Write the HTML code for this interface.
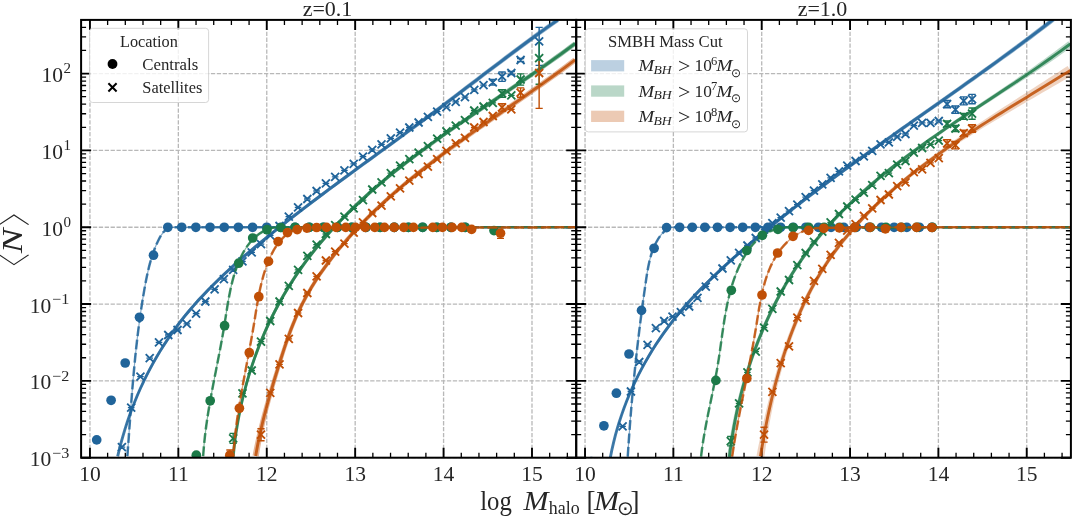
<!DOCTYPE html>
<html><head><meta charset="utf-8"><title>HOD</title><style>html,body{margin:0;padding:0;background:#fff}svg{display:block}</style></head><body>
<svg width="1075" height="518" viewBox="0 0 1075 518" font-family="'Liberation Serif', serif" fill="#262626">
<rect width="1075" height="518" fill="#fff"/>
<defs><clipPath id="c0"><rect x="81.1" y="19.9" width="495.1" height="437.8"/></clipPath><clipPath id="c1"><rect x="576.2" y="19.9" width="494.7" height="437.8"/></clipPath></defs>
<path d="M89.94 19.9V457.7M178.35 19.9V457.7M266.76 19.9V457.7M355.17 19.9V457.7M443.58 19.9V457.7M531.99 19.9V457.7M81.1 457.7H576.2M81.1 380.88H576.2M81.1 304.06H576.2M81.1 227.24H576.2M81.1 150.42H576.2M81.1 73.6H576.2" stroke="#b0b0b0" stroke-opacity="0.9" stroke-width="1.3" stroke-dasharray="4.3 1.6" fill="none"/>
<path d="M585.03 19.9V457.7M673.37 19.9V457.7M761.71 19.9V457.7M850.05 19.9V457.7M938.39 19.9V457.7M1026.73 19.9V457.7M576.2 457.7H1070.9M576.2 380.88H1070.9M576.2 304.06H1070.9M576.2 227.24H1070.9M576.2 150.42H1070.9M576.2 73.6H1070.9" stroke="#b0b0b0" stroke-opacity="0.9" stroke-width="1.3" stroke-dasharray="4.3 1.6" fill="none"/>
<path d="M107.62 457.7v-5.0M107.62 19.9v5.0M125.31 457.7v-5.0M125.31 19.9v5.0M142.99 457.7v-5.0M142.99 19.9v5.0M160.67 457.7v-5.0M160.67 19.9v5.0M196.03 457.7v-5.0M196.03 19.9v5.0M213.72 457.7v-5.0M213.72 19.9v5.0M231.4 457.7v-5.0M231.4 19.9v5.0M249.08 457.7v-5.0M249.08 19.9v5.0M284.44 457.7v-5.0M284.44 19.9v5.0M302.13 457.7v-5.0M302.13 19.9v5.0M319.81 457.7v-5.0M319.81 19.9v5.0M337.49 457.7v-5.0M337.49 19.9v5.0M372.86 457.7v-5.0M372.86 19.9v5.0M390.54 457.7v-5.0M390.54 19.9v5.0M408.22 457.7v-5.0M408.22 19.9v5.0M425.9 457.7v-5.0M425.9 19.9v5.0M461.27 457.7v-5.0M461.27 19.9v5.0M478.95 457.7v-5.0M478.95 19.9v5.0M496.63 457.7v-5.0M496.63 19.9v5.0M514.31 457.7v-5.0M514.31 19.9v5.0M549.68 457.7v-5.0M549.68 19.9v5.0M567.36 457.7v-5.0M567.36 19.9v5.0M81.1 434.57h5.0M576.2 434.57h-5.0M81.1 421.05h5.0M576.2 421.05h-5.0M81.1 411.45h5.0M576.2 411.45h-5.0M81.1 404h5.0M576.2 404h-5.0M81.1 397.92h5.0M576.2 397.92h-5.0M81.1 392.78h5.0M576.2 392.78h-5.0M81.1 388.32h5.0M576.2 388.32h-5.0M81.1 384.39h5.0M576.2 384.39h-5.0M81.1 357.75h5.0M576.2 357.75h-5.0M81.1 344.23h5.0M576.2 344.23h-5.0M81.1 334.63h5.0M576.2 334.63h-5.0M81.1 327.18h5.0M576.2 327.18h-5.0M81.1 321.1h5.0M576.2 321.1h-5.0M81.1 315.96h5.0M576.2 315.96h-5.0M81.1 311.5h5.0M576.2 311.5h-5.0M81.1 307.57h5.0M576.2 307.57h-5.0M81.1 280.93h5.0M576.2 280.93h-5.0M81.1 267.41h5.0M576.2 267.41h-5.0M81.1 257.81h5.0M576.2 257.81h-5.0M81.1 250.36h5.0M576.2 250.36h-5.0M81.1 244.28h5.0M576.2 244.28h-5.0M81.1 239.14h5.0M576.2 239.14h-5.0M81.1 234.68h5.0M576.2 234.68h-5.0M81.1 230.75h5.0M576.2 230.75h-5.0M81.1 204.11h5.0M576.2 204.11h-5.0M81.1 190.58h5.0M576.2 190.58h-5.0M81.1 180.99h5.0M576.2 180.99h-5.0M81.1 173.54h5.0M576.2 173.54h-5.0M81.1 167.46h5.0M576.2 167.46h-5.0M81.1 162.32h5.0M576.2 162.32h-5.0M81.1 157.86h5.0M576.2 157.86h-5.0M81.1 153.93h5.0M576.2 153.93h-5.0M81.1 127.29h5.0M576.2 127.29h-5.0M81.1 113.76h5.0M576.2 113.76h-5.0M81.1 104.17h5.0M576.2 104.17h-5.0M81.1 96.72h5.0M576.2 96.72h-5.0M81.1 90.64h5.0M576.2 90.64h-5.0M81.1 85.5h5.0M576.2 85.5h-5.0M81.1 81.04h5.0M576.2 81.04h-5.0M81.1 77.11h5.0M576.2 77.11h-5.0M81.1 50.47h5.0M576.2 50.47h-5.0M81.1 36.94h5.0M576.2 36.94h-5.0M81.1 27.34h5.0M576.2 27.34h-5.0M81.1 19.9h5.0M576.2 19.9h-5.0" stroke="#000" stroke-width="1.3" fill="none"/>
<path d="M89.94 457.7v-10.0M89.94 19.9v10.0M178.35 457.7v-10.0M178.35 19.9v10.0M266.76 457.7v-10.0M266.76 19.9v10.0M355.17 457.7v-10.0M355.17 19.9v10.0M443.58 457.7v-10.0M443.58 19.9v10.0M531.99 457.7v-10.0M531.99 19.9v10.0M81.1 457.7h10.0M576.2 457.7h-10.0M81.1 380.88h10.0M576.2 380.88h-10.0M81.1 304.06h10.0M576.2 304.06h-10.0M81.1 227.24h10.0M576.2 227.24h-10.0M81.1 150.42h10.0M576.2 150.42h-10.0M81.1 73.6h10.0M576.2 73.6h-10.0" stroke="#000" stroke-width="1.9" fill="none"/>
<path d="M602.7 457.7v-5.0M602.7 19.9v5.0M620.37 457.7v-5.0M620.37 19.9v5.0M638.04 457.7v-5.0M638.04 19.9v5.0M655.71 457.7v-5.0M655.71 19.9v5.0M691.04 457.7v-5.0M691.04 19.9v5.0M708.71 457.7v-5.0M708.71 19.9v5.0M726.38 457.7v-5.0M726.38 19.9v5.0M744.04 457.7v-5.0M744.04 19.9v5.0M779.38 457.7v-5.0M779.38 19.9v5.0M797.05 457.7v-5.0M797.05 19.9v5.0M814.72 457.7v-5.0M814.72 19.9v5.0M832.38 457.7v-5.0M832.38 19.9v5.0M867.72 457.7v-5.0M867.72 19.9v5.0M885.39 457.7v-5.0M885.39 19.9v5.0M903.06 457.7v-5.0M903.06 19.9v5.0M920.72 457.7v-5.0M920.72 19.9v5.0M956.06 457.7v-5.0M956.06 19.9v5.0M973.73 457.7v-5.0M973.73 19.9v5.0M991.39 457.7v-5.0M991.39 19.9v5.0M1009.06 457.7v-5.0M1009.06 19.9v5.0M1044.4 457.7v-5.0M1044.4 19.9v5.0M1062.07 457.7v-5.0M1062.07 19.9v5.0M576.2 434.57h5.0M1070.9 434.57h-5.0M576.2 421.05h5.0M1070.9 421.05h-5.0M576.2 411.45h5.0M1070.9 411.45h-5.0M576.2 404h5.0M1070.9 404h-5.0M576.2 397.92h5.0M1070.9 397.92h-5.0M576.2 392.78h5.0M1070.9 392.78h-5.0M576.2 388.32h5.0M1070.9 388.32h-5.0M576.2 384.39h5.0M1070.9 384.39h-5.0M576.2 357.75h5.0M1070.9 357.75h-5.0M576.2 344.23h5.0M1070.9 344.23h-5.0M576.2 334.63h5.0M1070.9 334.63h-5.0M576.2 327.18h5.0M1070.9 327.18h-5.0M576.2 321.1h5.0M1070.9 321.1h-5.0M576.2 315.96h5.0M1070.9 315.96h-5.0M576.2 311.5h5.0M1070.9 311.5h-5.0M576.2 307.57h5.0M1070.9 307.57h-5.0M576.2 280.93h5.0M1070.9 280.93h-5.0M576.2 267.41h5.0M1070.9 267.41h-5.0M576.2 257.81h5.0M1070.9 257.81h-5.0M576.2 250.36h5.0M1070.9 250.36h-5.0M576.2 244.28h5.0M1070.9 244.28h-5.0M576.2 239.14h5.0M1070.9 239.14h-5.0M576.2 234.68h5.0M1070.9 234.68h-5.0M576.2 230.75h5.0M1070.9 230.75h-5.0M576.2 204.11h5.0M1070.9 204.11h-5.0M576.2 190.58h5.0M1070.9 190.58h-5.0M576.2 180.99h5.0M1070.9 180.99h-5.0M576.2 173.54h5.0M1070.9 173.54h-5.0M576.2 167.46h5.0M1070.9 167.46h-5.0M576.2 162.32h5.0M1070.9 162.32h-5.0M576.2 157.86h5.0M1070.9 157.86h-5.0M576.2 153.93h5.0M1070.9 153.93h-5.0M576.2 127.29h5.0M1070.9 127.29h-5.0M576.2 113.76h5.0M1070.9 113.76h-5.0M576.2 104.17h5.0M1070.9 104.17h-5.0M576.2 96.72h5.0M1070.9 96.72h-5.0M576.2 90.64h5.0M1070.9 90.64h-5.0M576.2 85.5h5.0M1070.9 85.5h-5.0M576.2 81.04h5.0M1070.9 81.04h-5.0M576.2 77.11h5.0M1070.9 77.11h-5.0M576.2 50.47h5.0M1070.9 50.47h-5.0M576.2 36.94h5.0M1070.9 36.94h-5.0M576.2 27.34h5.0M1070.9 27.34h-5.0M576.2 19.9h5.0M1070.9 19.9h-5.0" stroke="#000" stroke-width="1.3" fill="none"/>
<path d="M585.03 457.7v-10.0M585.03 19.9v10.0M673.37 457.7v-10.0M673.37 19.9v10.0M761.71 457.7v-10.0M761.71 19.9v10.0M850.05 457.7v-10.0M850.05 19.9v10.0M938.39 457.7v-10.0M938.39 19.9v10.0M1026.73 457.7v-10.0M1026.73 19.9v10.0M576.2 457.7h10.0M1070.9 457.7h-10.0M576.2 380.88h10.0M1070.9 380.88h-10.0M576.2 304.06h10.0M1070.9 304.06h-10.0M576.2 227.24h10.0M1070.9 227.24h-10.0M576.2 150.42h10.0M1070.9 150.42h-10.0M576.2 73.6h10.0M1070.9 73.6h-10.0" stroke="#000" stroke-width="1.9" fill="none"/>
<g clip-path="url(#c0)">
<g stroke="#20649a" fill="#20649a">
<path d="M127.37 456.21L127.63 452.65L127.89 449.1L128.15 445.56L128.4 442.02L128.66 438.49L128.91 434.96L129.16 431.44L129.41 427.92L129.67 424.41L129.92 420.9L130.18 417.39L130.43 413.89L130.69 410.39L130.95 406.9L131.22 403.4L131.48 399.91L131.76 396.42L132.03 392.94L132.31 389.45L132.6 385.97L132.89 382.49L133.19 379.01L133.49 375.54L133.81 372.06L134.13 368.58L134.45 365.11L134.79 361.63L135.13 358.16L135.49 354.68L135.85 351.2L136.22 347.73L136.61 344.25L137 340.77L137.41 337.29L137.83 333.81L138.26 330.33L138.71 326.84L139.16 323.36L139.63 319.87L140.12 316.38L140.62 312.88L141.14 309.38L141.67 305.88L142.21 302.38L142.78 298.87L143.36 295.36L143.96 291.84L144.57 288.32L145.21 284.8L145.87 281.28L146.57 277.77L147.31 274.27L148.09 270.78L148.92 267.32L149.8 263.89L150.75 260.48L151.77 257.11L152.86 253.79L154.02 250.5L155.28 247.27L156.62 244.09L158.06 240.97L159.6 237.92L161.31 235.03L163.24 232.38L165.46 230.08L168.02 228.22L170.99 227.3L174.43 227.3L578.2 227.3" fill="none" stroke-width="1.2" stroke-opacity="0.55"/>
<path d="M127.37 456.21L127.63 452.65L127.89 449.1L128.15 445.56L128.4 442.02L128.66 438.49L128.91 434.96L129.16 431.44L129.41 427.92L129.67 424.41L129.92 420.9L130.18 417.39L130.43 413.89L130.69 410.39L130.95 406.9L131.22 403.4L131.48 399.91L131.76 396.42L132.03 392.94L132.31 389.45L132.6 385.97L132.89 382.49L133.19 379.01L133.49 375.54L133.81 372.06L134.13 368.58L134.45 365.11L134.79 361.63L135.13 358.16L135.49 354.68L135.85 351.2L136.22 347.73L136.61 344.25L137 340.77L137.41 337.29L137.83 333.81L138.26 330.33L138.71 326.84L139.16 323.36L139.63 319.87L140.12 316.38L140.62 312.88L141.14 309.38L141.67 305.88L142.21 302.38L142.78 298.87L143.36 295.36L143.96 291.84L144.57 288.32L145.21 284.8L145.87 281.28L146.57 277.77L147.31 274.27L148.09 270.78L148.92 267.32L149.8 263.89L150.75 260.48L151.77 257.11L152.86 253.79L154.02 250.5L155.28 247.27L156.62 244.09L158.06 240.97L159.6 237.92L161.31 235.03L163.24 232.38L165.46 230.08L168.02 228.22L170.99 227.3L174.43 227.3L578.2 227.3" fill="none" stroke-width="2.5" stroke-opacity="0.82" stroke-dasharray="9.8 3.6"/>
<g stroke="none"><circle cx="96.7" cy="439.9" r="4.85"/><circle cx="111.1" cy="400.3" r="4.85"/><circle cx="125.2" cy="363" r="4.85"/><circle cx="139.5" cy="317.3" r="4.85"/><circle cx="153.5" cy="255.2" r="4.85"/><circle cx="167.8" cy="227.3" r="4.85"/><circle cx="181.72" cy="227.3" r="4.85"/><circle cx="195.89" cy="227.3" r="4.85"/><circle cx="210.06" cy="227.3" r="4.85"/><circle cx="224.23" cy="227.3" r="4.85"/><circle cx="238.4" cy="227.3" r="4.85"/><circle cx="252.57" cy="227.3" r="4.85"/><circle cx="266.74" cy="227.3" r="4.85"/><circle cx="280.91" cy="227.3" r="4.85"/><circle cx="295.08" cy="227.3" r="4.85"/><circle cx="309.25" cy="227.3" r="4.85"/><circle cx="323.42" cy="227.3" r="4.85"/><circle cx="337.59" cy="227.3" r="4.85"/><circle cx="351.76" cy="227.3" r="4.85"/><circle cx="365.93" cy="227.3" r="4.85"/><circle cx="380.1" cy="227.3" r="4.85"/><circle cx="394.27" cy="227.3" r="4.85"/><circle cx="408.44" cy="227.3" r="4.85"/><circle cx="422.61" cy="227.3" r="4.85"/><circle cx="436.78" cy="227.3" r="4.85"/><circle cx="450.95" cy="227.3" r="4.85"/><circle cx="465.12" cy="227.3" r="4.85"/></g>
<path d="M117.67 456.43L119.48 449.45L121.41 442.51L123.47 435.63L125.64 428.79L127.93 422L130.35 415.27L132.89 408.59L135.55 401.98L138.34 395.43L141.25 388.94L144.28 382.52L147.44 376.17L150.72 369.89L154.13 363.69L157.66 357.56L161.31 351.52L165.08 345.55L168.98 339.68L173.01 333.89L177.15 328.19L181.42 322.59L185.81 317.08L190.32 311.66L194.94 306.32L199.66 301.07L204.47 295.89L209.39 290.79L214.38 285.76L219.46 280.79L224.62 275.89L229.84 271.05L235.12 266.27L240.47 261.55L245.86 256.87L251.3 252.24L256.78 247.65L262.29 243.1L267.83 238.59L273.39 234.11L278.97 229.66L284.56 225.24L290.17 220.85L295.8 216.48L301.44 212.14L307.1 207.83L312.77 203.53L318.45 199.26L324.15 195L329.85 190.77L335.56 186.54L341.29 182.33L347.01 178.13L352.75 173.93L358.49 169.75L364.23 165.57L369.98 161.39L375.73 157.22L381.48 153.05L387.23 148.87L392.98 144.69L398.72 140.51L404.47 136.32L410.21 132.12L415.95 127.92L421.68 123.7L427.41 119.46L433.13 115.21L438.84 110.95L444.54 106.68L450.24 102.39L455.93 98.1L461.62 93.8L467.31 89.49L473 85.18L478.68 80.88L484.37 76.57L490.06 72.27L495.75 67.98L501.45 63.7L507.16 59.42L512.87 55.16L518.59 50.91L524.32 46.69L530.06 42.48L535.81 38.29L541.57 34.12L547.35 29.98L553.14 25.87L558.96 21.79L556.37 18.13L550.57 22.25L544.78 26.4L539.01 30.58L533.26 34.79L527.51 39.01L521.78 43.26L516.07 47.53L510.36 51.81L504.66 56.1L498.97 60.41L493.29 64.72L487.61 69.05L481.94 73.37L476.27 77.71L470.6 82.04L464.94 86.37L459.27 90.7L453.6 95.02L447.93 99.34L442.26 103.65L436.58 107.94L430.89 112.23L425.2 116.5L419.5 120.75L413.79 124.99L408.07 129.22L402.35 133.43L396.63 137.64L390.9 141.85L385.17 146.05L379.43 150.24L373.7 154.44L367.97 158.64L362.23 162.83L356.5 167.04L350.77 171.24L345.05 175.46L339.33 179.68L333.62 183.92L327.92 188.16L322.22 192.43L316.53 196.7L310.85 201L305.18 205.31L299.53 209.64L293.88 214L288.24 218.38L282.63 222.78L277.02 227.21L271.44 231.68L265.87 236.17L260.32 240.7L254.8 245.27L249.31 249.89L243.86 254.54L238.45 259.25L233.09 264.01L227.79 268.83L222.55 273.7L217.39 278.64L212.29 283.65L207.28 288.73L202.35 293.89L197.52 299.12L192.78 304.43L188.16 309.83L183.64 315.32L179.25 320.91L174.98 326.58L170.83 332.36L166.82 338.22L162.94 344.18L159.19 350.22L155.57 356.35L152.08 362.55L148.73 368.84L145.51 375.2L142.43 381.64L139.48 388.14L136.66 394.71L133.99 401.35L131.45 408.05L129.05 414.81L126.8 421.62L124.68 428.49L122.71 435.41L120.89 442.37L119.21 449.38L117.67 456.43Z" stroke="none" fill-opacity="0.5"/>
<path d="M117.67 456.43L119.34 449.42L121.15 442.44L123.09 435.52L125.16 428.64L127.37 421.81L129.7 415.04L132.17 408.32L134.77 401.67L137.5 395.07L140.36 388.54L143.35 382.08L146.48 375.68L149.73 369.36L153.11 363.12L156.61 356.95L160.25 350.87L164.01 344.87L167.9 338.95L171.92 333.12L176.07 327.39L180.34 321.75L184.73 316.2L189.24 310.75L193.86 305.38L198.59 300.09L203.41 294.89L208.33 289.76L213.34 284.7L218.42 279.72L223.59 274.8L228.82 269.94L234.11 265.14L239.46 260.4L244.86 255.71L250.3 251.06L255.79 246.46L261.31 241.9L266.85 237.38L272.41 232.89L277.99 228.44L283.59 224.01L289.21 219.61L294.84 215.24L300.48 210.89L306.14 206.57L311.81 202.27L317.49 197.98L323.18 193.72L328.88 189.46L334.59 185.23L340.31 181.01L346.03 176.79L351.76 172.59L357.49 168.39L363.23 164.2L368.97 160.01L374.71 155.83L380.45 151.65L386.2 147.46L391.94 143.27L397.68 139.08L403.41 134.88L409.14 130.67L414.87 126.45L420.59 122.22L426.3 117.98L432.01 113.72L437.71 109.45L443.4 105.16L449.09 100.87L454.77 96.56L460.45 92.25L466.12 87.93L471.8 83.61L477.48 79.29L483.16 74.97L488.84 70.66L494.52 66.35L500.21 62.05L505.91 57.76L511.61 53.48L517.33 49.22L523.05 44.97L528.78 40.75L534.53 36.54L540.29 32.35L546.07 28.19L551.86 24.06L557.67 19.96" fill="none" stroke-width="2.9" stroke-opacity="0.85"/>
<path d="M118.6 447.2h6.6M127.87 407.7h6.6M137.14 376.7h6.6M146.42 358.2h6.6M155.69 342.4h6.6M164.96 335h6.6M174.23 330h6.6M183.5 323.8h6.6M192.78 313.6h6.6M202.05 301.5h6.6M211.32 289.4h6.6M220.59 279.2h6.6M229.86 269.9h6.6M239.14 261.3h6.6M248.41 252.4h6.6M257.68 244.2h6.6M266.95 235.3h6.6M276.22 226h6.6M285.5 216.7h6.6M294.77 207.3h6.6M304.04 199h6.6M313.31 191h6.6M322.58 183.3h6.6M331.86 176.8h6.6M341.13 170.3h6.6M350.4 163.8h6.6M359.67 156.7h6.6M368.94 149.9h6.6M378.22 144.3h6.6M387.49 138.3h6.6M396.76 132.7h6.6M406.03 127.5h6.6M415.3 122.5h6.6M424.58 116.9h6.6M433.85 111.7h6.6M443.12 107.2h6.6M452.39 101.9h6.6M461.66 97.2h6.6M470.94 89.8h6.6M480.21 85.1h6.6" fill="none" stroke-width="1.3"/>
<path d="M492.78 79.5V85.1M489.18 79.5h7.2M489.18 85.1h7.2M502.05 72V81.4M498.45 72h7.2M498.45 81.4h7.2M511.32 71.5V74.5M507.72 71.5h7.2M507.72 74.5h7.2M520.6 58.5V61.5M517 58.5h7.2M517 61.5h7.2M539.14 27.4V65.4M535.54 27.4h7.2M535.54 65.4h7.2" fill="none" stroke-width="1.4"/>
<path d="M117.9 443.2l8.0 8.0m0 -8.0l-8.0 8.0M127.17 403.7l8.0 8.0m0 -8.0l-8.0 8.0M136.44 372.7l8.0 8.0m0 -8.0l-8.0 8.0M145.72 354.2l8.0 8.0m0 -8.0l-8.0 8.0M154.99 338.4l8.0 8.0m0 -8.0l-8.0 8.0M164.26 331l8.0 8.0m0 -8.0l-8.0 8.0M173.53 326l8.0 8.0m0 -8.0l-8.0 8.0M182.8 319.8l8.0 8.0m0 -8.0l-8.0 8.0M192.08 309.6l8.0 8.0m0 -8.0l-8.0 8.0M201.35 297.5l8.0 8.0m0 -8.0l-8.0 8.0M210.62 285.4l8.0 8.0m0 -8.0l-8.0 8.0M219.89 275.2l8.0 8.0m0 -8.0l-8.0 8.0M229.16 265.9l8.0 8.0m0 -8.0l-8.0 8.0M238.44 257.3l8.0 8.0m0 -8.0l-8.0 8.0M247.71 248.4l8.0 8.0m0 -8.0l-8.0 8.0M256.98 240.2l8.0 8.0m0 -8.0l-8.0 8.0M266.25 231.3l8.0 8.0m0 -8.0l-8.0 8.0M275.52 222l8.0 8.0m0 -8.0l-8.0 8.0M284.8 212.7l8.0 8.0m0 -8.0l-8.0 8.0M294.07 203.3l8.0 8.0m0 -8.0l-8.0 8.0M303.34 195l8.0 8.0m0 -8.0l-8.0 8.0M312.61 187l8.0 8.0m0 -8.0l-8.0 8.0M321.88 179.3l8.0 8.0m0 -8.0l-8.0 8.0M331.16 172.8l8.0 8.0m0 -8.0l-8.0 8.0M340.43 166.3l8.0 8.0m0 -8.0l-8.0 8.0M349.7 159.8l8.0 8.0m0 -8.0l-8.0 8.0M358.97 152.7l8.0 8.0m0 -8.0l-8.0 8.0M368.24 145.9l8.0 8.0m0 -8.0l-8.0 8.0M377.52 140.3l8.0 8.0m0 -8.0l-8.0 8.0M386.79 134.3l8.0 8.0m0 -8.0l-8.0 8.0M396.06 128.7l8.0 8.0m0 -8.0l-8.0 8.0M405.33 123.5l8.0 8.0m0 -8.0l-8.0 8.0M414.6 118.5l8.0 8.0m0 -8.0l-8.0 8.0M423.88 112.9l8.0 8.0m0 -8.0l-8.0 8.0M433.15 107.7l8.0 8.0m0 -8.0l-8.0 8.0M442.42 103.2l8.0 8.0m0 -8.0l-8.0 8.0M451.69 97.9l8.0 8.0m0 -8.0l-8.0 8.0M460.96 93.2l8.0 8.0m0 -8.0l-8.0 8.0M470.24 85.8l8.0 8.0m0 -8.0l-8.0 8.0M479.51 81.1l8.0 8.0m0 -8.0l-8.0 8.0M488.78 78.3l8.0 8.0m0 -8.0l-8.0 8.0M498.05 72.7l8.0 8.0m0 -8.0l-8.0 8.0M507.32 69l8.0 8.0m0 -8.0l-8.0 8.0M516.6 56l8.0 8.0m0 -8.0l-8.0 8.0M535.14 37.4l8.0 8.0m0 -8.0l-8.0 8.0" fill="none" stroke-width="1.85"/>
</g>
<g stroke="#1c7a48" fill="#1c7a48">
<path d="M203.15 456.14L203.44 452.14L203.75 448.18L204.11 444.24L204.5 440.33L204.92 436.44L205.38 432.58L205.86 428.73L206.38 424.91L206.91 421.1L207.48 417.32L208.06 413.55L208.67 409.79L209.3 406.04L209.94 402.31L210.6 398.58L211.28 394.86L211.96 391.15L212.66 387.45L213.37 383.75L214.09 380.04L214.81 376.34L215.54 372.64L216.26 368.94L216.99 365.23L217.72 361.52L218.45 357.8L219.17 354.07L219.89 350.33L220.6 346.58L221.29 342.81L221.98 339.03L222.66 335.24L223.32 331.43L223.97 327.59L224.59 323.74L225.21 319.87L225.82 315.99L226.43 312.09L227.06 308.19L227.7 304.3L228.37 300.4L229.08 296.52L229.83 292.65L230.63 288.8L231.49 284.98L232.42 281.18L233.43 277.42L234.52 273.69L235.7 270.01L236.99 266.37L238.38 262.79L239.89 259.26L241.52 255.81L243.29 252.45L245.2 249.21L247.25 246.11L249.46 243.16L251.83 240.39L254.36 237.81L257.08 235.45L259.98 233.32L263.07 231.45L266.35 229.86L269.85 228.57L273.56 227.59L277.49 227.3L281.65 227.3L286.04 227.3L290.68 227.3L578.2 227.3" fill="none" stroke-width="1.2" stroke-opacity="0.55"/>
<path d="M203.15 456.14L203.44 452.14L203.75 448.18L204.11 444.24L204.5 440.33L204.92 436.44L205.38 432.58L205.86 428.73L206.38 424.91L206.91 421.1L207.48 417.32L208.06 413.55L208.67 409.79L209.3 406.04L209.94 402.31L210.6 398.58L211.28 394.86L211.96 391.15L212.66 387.45L213.37 383.75L214.09 380.04L214.81 376.34L215.54 372.64L216.26 368.94L216.99 365.23L217.72 361.52L218.45 357.8L219.17 354.07L219.89 350.33L220.6 346.58L221.29 342.81L221.98 339.03L222.66 335.24L223.32 331.43L223.97 327.59L224.59 323.74L225.21 319.87L225.82 315.99L226.43 312.09L227.06 308.19L227.7 304.3L228.37 300.4L229.08 296.52L229.83 292.65L230.63 288.8L231.49 284.98L232.42 281.18L233.43 277.42L234.52 273.69L235.7 270.01L236.99 266.37L238.38 262.79L239.89 259.26L241.52 255.81L243.29 252.45L245.2 249.21L247.25 246.11L249.46 243.16L251.83 240.39L254.36 237.81L257.08 235.45L259.98 233.32L263.07 231.45L266.35 229.86L269.85 228.57L273.56 227.59L277.49 227.3L281.65 227.3L286.04 227.3L290.68 227.3L578.2 227.3" fill="none" stroke-width="2.5" stroke-opacity="0.82" stroke-dasharray="9.8 3.6"/>
<g stroke="none"><circle cx="196.3" cy="455.2" r="4.85"/><circle cx="210.2" cy="400.8" r="4.85"/><circle cx="224.6" cy="325.7" r="4.85"/><circle cx="238.7" cy="263.2" r="4.85"/><circle cx="252.7" cy="238" r="4.85"/><circle cx="267" cy="229.7" r="4.85"/><circle cx="280.9" cy="227.5" r="4.85"/><circle cx="295.08" cy="227.3" r="4.85"/><circle cx="309.25" cy="227.3" r="4.85"/><circle cx="323.42" cy="227.3" r="4.85"/><circle cx="337.59" cy="227.3" r="4.85"/><circle cx="351.76" cy="227.3" r="4.85"/><circle cx="365.93" cy="227.3" r="4.85"/><circle cx="380.1" cy="227.3" r="4.85"/><circle cx="394.27" cy="227.3" r="4.85"/><circle cx="408.44" cy="227.3" r="4.85"/><circle cx="422.61" cy="227.3" r="4.85"/><circle cx="436.78" cy="227.3" r="4.85"/><circle cx="450.95" cy="227.3" r="4.85"/><circle cx="465.12" cy="227.3" r="4.85"/><circle cx="494" cy="230.6" r="4.85"/></g>
<path d="M233.7 456.62L234.42 450.33L235.23 444.05L236.12 437.78L237.1 431.53L238.17 425.3L239.33 419.08L240.58 412.88L241.92 406.71L243.35 400.56L244.87 394.43L246.48 388.33L248.18 382.27L249.98 376.23L251.87 370.23L253.85 364.26L255.92 358.33L258.09 352.44L260.35 346.59L262.7 340.78L265.15 335.02L267.68 329.31L270.32 323.64L273.04 318.03L275.86 312.47L278.77 306.97L281.77 301.51L284.87 296.12L288.05 290.78L291.31 285.49L294.66 280.26L298.1 275.1L301.62 269.99L305.23 264.94L308.92 259.95L312.68 255.03L316.53 250.16L320.45 245.37L324.45 240.63L328.53 235.96L332.67 231.34L336.89 226.79L341.17 222.29L345.52 217.84L349.93 213.45L354.4 209.11L358.93 204.82L363.51 200.57L368.15 196.38L372.84 192.23L377.58 188.12L382.36 184.06L387.19 180.04L392.07 176.05L396.98 172.11L401.93 168.2L406.91 164.32L411.93 160.48L416.98 156.66L422.06 152.88L427.17 149.13L432.3 145.4L437.45 141.7L442.62 138.02L447.81 134.36L453.01 130.72L458.23 127.1L463.46 123.5L468.69 119.91L473.93 116.34L479.18 112.78L484.43 109.23L489.67 105.69L494.92 102.15L500.16 98.62L505.39 95.1L510.61 91.58L515.82 88.06L521.01 84.54L526.19 81.01L531.35 77.49L536.49 73.95L541.61 70.42L546.7 66.87L551.76 63.31L556.79 59.74L561.79 56.15L566.75 52.56L571.68 48.94L576.56 45.31L573.81 41.63L568.96 45.28L564.08 48.9L559.15 52.51L554.19 56.11L549.19 59.7L544.16 63.27L539.1 66.83L534.02 70.39L528.91 73.94L523.78 77.49L518.62 81.04L513.45 84.58L508.26 88.12L503.06 91.67L497.85 95.22L492.63 98.77L487.4 102.33L482.17 105.9L476.94 109.48L471.7 113.07L466.47 116.67L461.24 120.29L456.02 123.92L450.81 127.58L445.61 131.24L440.43 134.94L435.26 138.65L430.11 142.38L424.98 146.15L419.87 149.94L414.79 153.75L409.74 157.6L404.72 161.48L399.72 165.39L394.77 169.34L389.85 173.33L384.97 177.35L380.13 181.41L375.33 185.51L370.58 189.66L365.88 193.85L361.23 198.09L356.63 202.37L352.09 206.71L347.6 211.09L343.18 215.53L338.81 220.02L334.52 224.57L330.28 229.17L326.12 233.83L322.03 238.56L318.01 243.34L314.07 248.19L310.2 253.1L306.42 258.08L302.71 263.11L299.09 268.21L295.55 273.37L292.09 278.59L288.73 283.87L285.44 289.2L282.25 294.6L279.15 300.05L276.14 305.55L273.22 311.11L270.4 316.73L267.68 322.4L265.05 328.12L262.52 333.89L260.08 339.7L257.75 345.57L255.51 351.47L253.37 357.42L251.33 363.41L249.38 369.44L247.54 375.5L245.79 381.59L244.15 387.71L242.6 393.87L241.15 400.05L239.81 406.25L238.56 412.48L237.42 418.73L236.37 425L235.43 431.28L234.6 437.57L233.86 443.88L233.23 450.2L232.71 456.52Z" stroke="none" fill-opacity="0.5"/>
<path d="M233.21 456.57L233.83 450.26L234.54 443.97L235.36 437.68L236.27 431.41L237.27 425.15L238.37 418.91L239.57 412.68L240.86 406.48L242.25 400.3L243.73 394.15L245.31 388.02L246.99 381.93L248.76 375.86L250.63 369.83L252.59 363.83L254.65 357.88L256.8 351.96L259.05 346.08L261.39 340.24L263.83 334.45L266.37 328.71L269 323.02L271.72 317.38L274.54 311.79L277.46 306.26L280.46 300.78L283.56 295.36L286.74 289.99L290.02 284.68L293.38 279.43L296.83 274.23L300.36 269.1L303.97 264.03L307.67 259.01L311.44 254.06L315.3 249.18L319.23 244.35L323.24 239.59L327.32 234.9L331.48 230.26L335.7 225.68L339.99 221.15L344.35 216.68L348.77 212.27L353.24 207.91L357.78 203.59L362.37 199.33L367.02 195.12L371.71 190.95L376.45 186.82L381.25 182.74L386.08 178.69L390.96 174.69L395.87 170.72L400.83 166.79L405.81 162.9L410.84 159.04L415.89 155.21L420.97 151.41L426.07 147.64L431.2 143.89L436.35 140.17L441.52 136.48L446.71 132.8L451.91 129.15L457.13 125.51L462.35 121.89L467.58 118.29L472.82 114.7L478.06 111.13L483.3 107.56L488.54 104.01L493.77 100.46L499 96.92L504.23 93.38L509.44 89.85L514.64 86.32L519.82 82.79L524.98 79.25L530.13 75.72L535.25 72.17L540.36 68.62L545.43 65.07L550.47 61.5L555.49 57.92L560.47 54.33L565.41 50.73L570.32 47.11L575.19 43.47" fill="none" stroke-width="2.9" stroke-opacity="0.85"/>
<path d="M239.14 393.4h6.6M248.41 370.5h6.6M257.68 341.6h6.6M266.95 321h6.6M276.22 301.5h6.6M285.5 285.8h6.6M294.77 269.8h6.6M304.04 255.8h6.6M313.31 244.7h6.6M322.58 234h6.6M331.86 225.1h6.6M341.13 216.7h6.6M350.4 208.4h6.6M359.67 200.1h6.6M368.94 189.5h6.6M378.22 182.4h6.6M387.49 173.1h6.6M396.76 165.7h6.6M406.03 159.2h6.6M415.3 152.7h6.6M424.58 146.1h6.6M433.85 138.7h6.6M443.12 131.3h6.6M452.39 125.7h6.6M461.66 120.1h6.6M470.94 110.5h6.6M480.21 106.5h6.6M489.48 102.8h6.6M508.02 95.3h6.6" fill="none" stroke-width="1.3"/>
<path d="M233.16 433.4V443.4M229.56 433.4h7.2M229.56 443.4h7.2M502.05 89.8V97.2M498.45 89.8h7.2M498.45 97.2h7.2M520.6 73.9V85.1M517 73.9h7.2M517 85.1h7.2M539.14 41.4V84.2M535.54 84.2h7.2" fill="none" stroke-width="1.4"/>
<path d="M229.16 434.4l8.0 8.0m0 -8.0l-8.0 8.0M238.44 389.4l8.0 8.0m0 -8.0l-8.0 8.0M247.71 366.5l8.0 8.0m0 -8.0l-8.0 8.0M256.98 337.6l8.0 8.0m0 -8.0l-8.0 8.0M266.25 317l8.0 8.0m0 -8.0l-8.0 8.0M275.52 297.5l8.0 8.0m0 -8.0l-8.0 8.0M284.8 281.8l8.0 8.0m0 -8.0l-8.0 8.0M294.07 265.8l8.0 8.0m0 -8.0l-8.0 8.0M303.34 251.8l8.0 8.0m0 -8.0l-8.0 8.0M312.61 240.7l8.0 8.0m0 -8.0l-8.0 8.0M321.88 230l8.0 8.0m0 -8.0l-8.0 8.0M331.16 221.1l8.0 8.0m0 -8.0l-8.0 8.0M340.43 212.7l8.0 8.0m0 -8.0l-8.0 8.0M349.7 204.4l8.0 8.0m0 -8.0l-8.0 8.0M358.97 196.1l8.0 8.0m0 -8.0l-8.0 8.0M368.24 185.5l8.0 8.0m0 -8.0l-8.0 8.0M377.52 178.4l8.0 8.0m0 -8.0l-8.0 8.0M386.79 169.1l8.0 8.0m0 -8.0l-8.0 8.0M396.06 161.7l8.0 8.0m0 -8.0l-8.0 8.0M405.33 155.2l8.0 8.0m0 -8.0l-8.0 8.0M414.6 148.7l8.0 8.0m0 -8.0l-8.0 8.0M423.88 142.1l8.0 8.0m0 -8.0l-8.0 8.0M433.15 134.7l8.0 8.0m0 -8.0l-8.0 8.0M442.42 127.3l8.0 8.0m0 -8.0l-8.0 8.0M451.69 121.7l8.0 8.0m0 -8.0l-8.0 8.0M460.96 116.1l8.0 8.0m0 -8.0l-8.0 8.0M470.24 106.5l8.0 8.0m0 -8.0l-8.0 8.0M479.51 102.5l8.0 8.0m0 -8.0l-8.0 8.0M488.78 98.8l8.0 8.0m0 -8.0l-8.0 8.0M498.05 89.5l8.0 8.0m0 -8.0l-8.0 8.0M507.32 91.3l8.0 8.0m0 -8.0l-8.0 8.0M516.6 75.5l8.0 8.0m0 -8.0l-8.0 8.0M535.14 54.1l8.0 8.0m0 -8.0l-8.0 8.0" fill="none" stroke-width="1.85"/>
</g>
<g stroke="#c04f06" fill="#c04f06">
<path d="M233.63 451.46L233.94 447.53L234.29 443.62L234.67 439.71L235.09 435.83L235.53 431.95L236 428.08L236.5 424.23L237.03 420.38L237.58 416.54L238.15 412.71L238.74 408.89L239.35 405.07L239.98 401.26L240.62 397.45L241.28 393.65L241.95 389.86L242.63 386.06L243.32 382.27L244.02 378.48L244.73 374.69L245.44 370.91L246.15 367.12L246.87 363.33L247.58 359.54L248.3 355.74L249.01 351.95L249.71 348.15L250.41 344.34L251.11 340.53L251.79 336.72L252.46 332.89L253.12 329.07L253.77 325.23L254.4 321.38L255.02 317.53L255.63 313.67L256.26 309.82L256.89 305.96L257.55 302.1L258.24 298.26L258.97 294.42L259.74 290.59L260.57 286.78L261.46 282.99L262.43 279.22L263.47 275.47L264.6 271.74L265.83 268.05L267.17 264.38L268.61 260.75L270.18 257.16L271.88 253.64L273.72 250.22L275.71 246.92L277.86 243.78L280.18 240.82L282.68 238.08L285.38 235.59L288.28 233.37L291.38 231.45L294.71 229.87L298.27 228.65L302.04 227.79L305.97 227.3L310.02 227.3L314.13 227.3L318.26 227.3L322.35 227.4L326.36 227.82L578.2 227.3" fill="none" stroke-width="1.2" stroke-opacity="0.55"/>
<path d="M233.63 451.46L233.94 447.53L234.29 443.62L234.67 439.71L235.09 435.83L235.53 431.95L236 428.08L236.5 424.23L237.03 420.38L237.58 416.54L238.15 412.71L238.74 408.89L239.35 405.07L239.98 401.26L240.62 397.45L241.28 393.65L241.95 389.86L242.63 386.06L243.32 382.27L244.02 378.48L244.73 374.69L245.44 370.91L246.15 367.12L246.87 363.33L247.58 359.54L248.3 355.74L249.01 351.95L249.71 348.15L250.41 344.34L251.11 340.53L251.79 336.72L252.46 332.89L253.12 329.07L253.77 325.23L254.4 321.38L255.02 317.53L255.63 313.67L256.26 309.82L256.89 305.96L257.55 302.1L258.24 298.26L258.97 294.42L259.74 290.59L260.57 286.78L261.46 282.99L262.43 279.22L263.47 275.47L264.6 271.74L265.83 268.05L267.17 264.38L268.61 260.75L270.18 257.16L271.88 253.64L273.72 250.22L275.71 246.92L277.86 243.78L280.18 240.82L282.68 238.08L285.38 235.59L288.28 233.37L291.38 231.45L294.71 229.87L298.27 228.65L302.04 227.79L305.97 227.3L310.02 227.3L314.13 227.3L318.26 227.3L322.35 227.4L326.36 227.82L578.2 227.3" fill="none" stroke-width="2.5" stroke-opacity="0.82" stroke-dasharray="9.8 3.6"/>
<g stroke="none"><circle cx="229.8" cy="455.2" r="4.85"/><circle cx="239.4" cy="408.3" r="4.85"/><circle cx="249.3" cy="352.7" r="4.85"/><circle cx="258.8" cy="296.7" r="4.85"/><circle cx="268.5" cy="261.4" r="4.85"/><circle cx="278.1" cy="241.6" r="4.85"/><circle cx="287.5" cy="232.6" r="4.85"/><circle cx="297.2" cy="229.6" r="4.85"/><circle cx="306.9" cy="228.1" r="4.85"/><circle cx="316.6" cy="227.5" r="4.85"/><circle cx="326.47" cy="227.4" r="4.85"/><circle cx="336.14" cy="227.4" r="4.85"/><circle cx="345.8" cy="227.4" r="4.85"/><circle cx="355.47" cy="227.4" r="4.85"/><circle cx="365.14" cy="227.4" r="4.85"/><circle cx="374.81" cy="227.4" r="4.85"/><circle cx="384.47" cy="227.4" r="4.85"/><circle cx="394.14" cy="227.4" r="4.85"/><circle cx="403.81" cy="227.4" r="4.85"/><circle cx="413.47" cy="227.4" r="4.85"/><circle cx="432.81" cy="227.4" r="4.85"/><circle cx="442.47" cy="227.4" r="4.85"/><circle cx="452.14" cy="227.4" r="4.85"/><circle cx="461.81" cy="227.4" r="4.85"/><circle cx="471.6" cy="229.4" r="4.85"/><circle cx="500.5" cy="233.2" r="4.85"/></g>
<path d="M229.8 450V464.2M226.3 464.2h7M226.3 450h7" fill="none" stroke-width="1.4"/>
<path d="M500.5 233.2V238.4M497 238.4h7M497 233.2h7" fill="none" stroke-width="1.4"/>
<path d="M258.82 456.58L259.71 450.74L260.7 444.94L261.76 439.15L262.91 433.37L264.14 427.6L265.43 421.85L266.79 416.1L268.22 410.37L269.7 404.64L271.23 398.91L272.81 393.2L274.44 387.48L276.1 381.77L277.8 376.06L279.52 370.35L281.27 364.64L283.05 358.94L284.85 353.24L286.69 347.56L288.59 341.91L290.56 336.29L292.61 330.71L294.76 325.19L297.01 319.72L299.38 314.31L301.88 308.98L304.52 303.71L307.28 298.51L310.16 293.38L313.15 288.31L316.26 283.31L319.47 278.37L322.77 273.5L326.17 268.69L329.66 263.94L333.22 259.25L336.87 254.62L340.58 250.06L344.36 245.55L348.21 241.1L352.13 236.71L356.1 232.37L360.13 228.09L364.23 223.85L368.38 219.67L372.58 215.54L376.84 211.45L381.14 207.41L385.5 203.41L389.9 199.46L394.34 195.54L398.83 191.67L403.36 187.83L407.93 184.03L412.53 180.27L417.17 176.54L421.84 172.84L426.54 169.17L431.27 165.53L436.02 161.92L440.8 158.33L445.61 154.77L450.43 151.22L455.27 147.7L460.13 144.2L465.01 140.72L469.9 137.26L474.79 133.81L479.7 130.37L484.62 126.94L489.54 123.53L494.46 120.12L499.38 116.72L504.3 113.32L509.22 109.93L514.14 106.55L519.05 103.16L523.95 99.77L528.84 96.38L533.71 92.99L538.57 89.59L543.42 86.18L548.25 82.77L553.05 79.34L557.84 75.91L562.6 72.46L567.33 68.99L572.03 65.51L576.7 62.02L573.46 57.71L568.82 61.23L564.17 64.73L559.48 68.21L554.76 71.67L550.02 75.13L545.25 78.57L540.46 82.01L535.65 85.44L530.82 88.86L525.97 92.28L521.11 95.7L516.24 99.12L511.35 102.53L506.46 105.95L501.56 109.37L496.66 112.8L491.75 116.23L486.85 119.67L481.94 123.12L477.04 126.59L472.15 130.06L467.26 133.55L462.38 137.05L457.51 140.57L452.66 144.11L447.82 147.67L443 151.25L438.19 154.85L433.41 158.48L428.65 162.13L423.92 165.81L419.22 169.52L414.54 173.27L409.9 177.04L405.28 180.85L400.71 184.69L396.17 188.57L391.67 192.49L387.21 196.45L382.79 200.45L378.42 204.49L374.1 208.58L369.83 212.71L365.6 216.89L361.43 221.12L357.32 225.4L353.26 229.74L349.26 234.12L345.32 238.57L341.44 243.07L337.63 247.62L333.89 252.24L330.21 256.92L326.61 261.66L323.09 266.47L319.65 271.34L316.31 276.28L313.06 281.28L309.91 286.34L306.86 291.48L303.93 296.68L301.12 301.95L298.42 307.3L295.86 312.71L293.43 318.18L291.12 323.72L288.92 329.3L286.81 334.93L284.79 340.59L282.83 346.27L280.93 351.97L279.07 357.67L277.24 363.38L275.43 369.08L273.63 374.79L271.86 380.5L270.11 386.21L268.4 391.92L266.71 397.64L265.06 403.37L263.46 409.11L261.9 414.85L260.38 420.61L258.92 426.38L257.52 432.17L256.17 437.98L254.88 443.8L253.66 449.64L252.52 455.48Z" stroke="none" fill-opacity="0.42"/>
<path d="M255.67 456.03L256.69 450.19L257.79 444.37L258.97 438.56L260.21 432.77L261.53 426.99L262.91 421.23L264.35 415.48L265.84 409.74L267.38 404L268.97 398.28L270.6 392.56L272.28 386.84L273.98 381.13L275.71 375.43L277.48 369.72L279.26 364.01L281.06 358.3L282.89 352.6L284.76 346.91L286.69 341.25L288.69 335.61L290.76 330.01L292.94 324.45L295.22 318.95L297.62 313.51L300.15 308.14L302.82 302.83L305.6 297.6L308.51 292.43L311.53 287.33L314.66 282.29L317.89 277.32L321.21 272.42L324.63 267.58L328.14 262.8L331.72 258.09L335.38 253.43L339.11 248.84L342.9 244.31L346.77 239.83L350.69 235.42L354.68 231.05L358.73 226.75L362.83 222.49L366.99 218.28L371.2 214.12L375.47 210.01L379.78 205.95L384.15 201.93L388.55 197.95L393.01 194.02L397.5 190.12L402.03 186.26L406.61 182.44L411.21 178.66L415.85 174.9L420.53 171.18L425.23 167.49L429.96 163.83L434.72 160.2L439.5 156.59L444.3 153.01L449.12 149.45L453.96 145.91L458.82 142.39L463.69 138.89L468.58 135.4L473.47 131.93L478.37 128.48L483.28 125.03L488.19 121.6L493.11 118.18L498.02 114.76L502.93 111.35L507.84 107.94L512.75 104.54L517.64 101.14L522.53 97.74L527.4 94.33L532.26 90.93L537.11 87.51L541.94 84.1L546.75 80.67L551.53 77.24L556.3 73.79L561.04 70.33L565.75 66.86L570.43 63.37L575.08 59.87" fill="none" stroke-width="2.9" stroke-opacity="0.85"/>
<path d="M266.95 392.8h6.6M276.22 364.3h6.6M285.5 338.8h6.6M294.77 313h6.6M304.04 293h6.6M313.31 276.3h6.6M322.58 260.5h6.6M331.86 251.7h6.6M341.13 243.7h6.6M350.4 232.6h6.6M359.67 222.3h6.6M368.94 213h6.6M378.22 205.6h6.6M387.49 196.4h6.6M396.76 188.4h6.6M406.03 180.6h6.6M415.3 174h6.6M424.58 166.6h6.6M433.85 159.2h6.6M443.12 150.8h6.6M452.39 143.3h6.6M461.66 137.8h6.6M470.94 127.5h6.6M480.21 122h6.6M489.48 116h6.6M508.02 109.3h6.6" fill="none" stroke-width="1.3"/>
<path d="M260.98 428.7V440.7M257.38 428.7h7.2M257.38 440.7h7.2M502.05 103.7V111.1M498.45 103.7h7.2M498.45 111.1h7.2M520.6 87.9V97.3M517 87.9h7.2M517 97.3h7.2M539.14 61V108.4M535.54 108.4h7.2" fill="none" stroke-width="1.4"/>
<path d="M256.98 430.7l8.0 8.0m0 -8.0l-8.0 8.0M266.25 388.8l8.0 8.0m0 -8.0l-8.0 8.0M275.52 360.3l8.0 8.0m0 -8.0l-8.0 8.0M284.8 334.8l8.0 8.0m0 -8.0l-8.0 8.0M294.07 309l8.0 8.0m0 -8.0l-8.0 8.0M303.34 289l8.0 8.0m0 -8.0l-8.0 8.0M312.61 272.3l8.0 8.0m0 -8.0l-8.0 8.0M321.88 256.5l8.0 8.0m0 -8.0l-8.0 8.0M331.16 247.7l8.0 8.0m0 -8.0l-8.0 8.0M340.43 239.7l8.0 8.0m0 -8.0l-8.0 8.0M349.7 228.6l8.0 8.0m0 -8.0l-8.0 8.0M358.97 218.3l8.0 8.0m0 -8.0l-8.0 8.0M368.24 209l8.0 8.0m0 -8.0l-8.0 8.0M377.52 201.6l8.0 8.0m0 -8.0l-8.0 8.0M386.79 192.4l8.0 8.0m0 -8.0l-8.0 8.0M396.06 184.4l8.0 8.0m0 -8.0l-8.0 8.0M405.33 176.6l8.0 8.0m0 -8.0l-8.0 8.0M414.6 170l8.0 8.0m0 -8.0l-8.0 8.0M423.88 162.6l8.0 8.0m0 -8.0l-8.0 8.0M433.15 155.2l8.0 8.0m0 -8.0l-8.0 8.0M442.42 146.8l8.0 8.0m0 -8.0l-8.0 8.0M451.69 139.3l8.0 8.0m0 -8.0l-8.0 8.0M460.96 133.8l8.0 8.0m0 -8.0l-8.0 8.0M470.24 123.5l8.0 8.0m0 -8.0l-8.0 8.0M479.51 118l8.0 8.0m0 -8.0l-8.0 8.0M488.78 112l8.0 8.0m0 -8.0l-8.0 8.0M498.05 103.4l8.0 8.0m0 -8.0l-8.0 8.0M507.32 105.3l8.0 8.0m0 -8.0l-8.0 8.0M516.6 88.6l8.0 8.0m0 -8.0l-8.0 8.0M535.14 69l8.0 8.0m0 -8.0l-8.0 8.0" fill="none" stroke-width="1.85"/>
</g>
</g>
<g clip-path="url(#c1)">
<g stroke="#20649a" fill="#20649a">
<path d="M627.74 456.68L627.97 453.09L628.2 449.51L628.43 445.95L628.67 442.39L628.92 438.84L629.17 435.3L629.42 431.77L629.68 428.24L629.95 424.73L630.22 421.22L630.49 417.72L630.77 414.22L631.06 410.73L631.35 407.25L631.65 403.77L631.95 400.3L632.26 396.83L632.58 393.36L632.9 389.9L633.22 386.44L633.55 382.98L633.89 379.53L634.23 376.08L634.58 372.63L634.93 369.17L635.29 365.72L635.66 362.27L636.03 358.82L636.41 355.37L636.79 351.92L637.18 348.46L637.58 345.01L637.98 341.55L638.39 338.08L638.8 334.62L639.22 331.15L639.65 327.67L640.08 324.19L640.52 320.71L640.97 317.22L641.42 313.72L641.88 310.22L642.35 306.71L642.82 303.19L643.3 299.67L643.78 296.14L644.28 292.6L644.78 289.05L645.28 285.49L645.79 281.92L646.32 278.34L646.87 274.77L647.45 271.21L648.09 267.67L648.79 264.17L649.56 260.71L650.43 257.31L651.41 253.97L652.5 250.71L653.73 247.54L655.11 244.46L656.64 241.5L658.35 238.65L660.24 235.93L662.34 233.36L664.69 231.02L667.31 228.98L670.27 227.32L673.58 227.3L1072.9 227.3" fill="none" stroke-width="1.2" stroke-opacity="0.55"/>
<path d="M627.74 456.68L627.97 453.09L628.2 449.51L628.43 445.95L628.67 442.39L628.92 438.84L629.17 435.3L629.42 431.77L629.68 428.24L629.95 424.73L630.22 421.22L630.49 417.72L630.77 414.22L631.06 410.73L631.35 407.25L631.65 403.77L631.95 400.3L632.26 396.83L632.58 393.36L632.9 389.9L633.22 386.44L633.55 382.98L633.89 379.53L634.23 376.08L634.58 372.63L634.93 369.17L635.29 365.72L635.66 362.27L636.03 358.82L636.41 355.37L636.79 351.92L637.18 348.46L637.58 345.01L637.98 341.55L638.39 338.08L638.8 334.62L639.22 331.15L639.65 327.67L640.08 324.19L640.52 320.71L640.97 317.22L641.42 313.72L641.88 310.22L642.35 306.71L642.82 303.19L643.3 299.67L643.78 296.14L644.28 292.6L644.78 289.05L645.28 285.49L645.79 281.92L646.32 278.34L646.87 274.77L647.45 271.21L648.09 267.67L648.79 264.17L649.56 260.71L650.43 257.31L651.41 253.97L652.5 250.71L653.73 247.54L655.11 244.46L656.64 241.5L658.35 238.65L660.24 235.93L662.34 233.36L664.69 231.02L667.31 228.98L670.27 227.32L673.58 227.3L1072.9 227.3" fill="none" stroke-width="2.5" stroke-opacity="0.82" stroke-dasharray="9.8 3.6"/>
<g stroke="none"><circle cx="591.3" cy="461.5" r="4.85"/><circle cx="603.9" cy="425.8" r="4.85"/><circle cx="616.4" cy="393.2" r="4.85"/><circle cx="629" cy="354" r="4.85"/><circle cx="641.5" cy="310.4" r="4.85"/><circle cx="654.1" cy="248.3" r="4.85"/><circle cx="666.6" cy="227.6" r="4.85"/><circle cx="679.62" cy="227.3" r="4.85"/><circle cx="692.24" cy="227.3" r="4.85"/><circle cx="704.86" cy="227.3" r="4.85"/><circle cx="717.48" cy="227.3" r="4.85"/><circle cx="730.1" cy="227.3" r="4.85"/><circle cx="742.72" cy="227.3" r="4.85"/><circle cx="755.34" cy="227.3" r="4.85"/><circle cx="767.96" cy="227.3" r="4.85"/><circle cx="780.58" cy="227.3" r="4.85"/><circle cx="793.2" cy="227.3" r="4.85"/><circle cx="805.82" cy="227.3" r="4.85"/><circle cx="818.44" cy="227.3" r="4.85"/><circle cx="831.06" cy="227.3" r="4.85"/><circle cx="843.68" cy="227.3" r="4.85"/><circle cx="856.3" cy="227.3" r="4.85"/><circle cx="868.92" cy="227.3" r="4.85"/><circle cx="881.54" cy="227.3" r="4.85"/><circle cx="894.16" cy="227.3" r="4.85"/><circle cx="906.78" cy="227.3" r="4.85"/><circle cx="919.4" cy="227.3" r="4.85"/><circle cx="932.02" cy="227.3" r="4.85"/></g>
<path d="M610.38 457.22L611.99 450.01L613.76 442.88L615.67 435.82L617.72 428.83L619.92 421.92L622.27 415.08L624.76 408.32L627.39 401.63L630.15 395.02L633.06 388.49L636.1 382.03L639.28 375.66L642.59 369.36L646.03 363.15L649.6 357.02L653.3 350.97L657.13 345.01L661.08 339.14L665.15 333.35L669.34 327.65L673.66 322.04L678.09 316.52L682.63 311.08L687.28 305.73L692.03 300.46L696.87 295.26L701.8 290.13L706.81 285.06L711.9 280.07L717.05 275.13L722.27 270.24L727.55 265.41L732.88 260.62L738.25 255.88L743.65 251.18L749.1 246.51L754.56 241.88L760.06 237.29L765.57 232.72L771.11 228.18L776.68 223.68L782.27 219.2L787.87 214.75L793.5 210.33L799.15 205.93L804.82 201.56L810.51 197.21L816.22 192.89L821.94 188.59L827.68 184.31L833.44 180.05L839.21 175.81L844.99 171.59L850.78 167.38L856.59 163.18L862.41 159L868.23 154.83L874.07 150.68L879.91 146.53L885.76 142.39L891.62 138.26L897.48 134.14L903.35 130.02L909.21 125.91L915.09 121.8L920.96 117.7L926.84 113.59L932.71 109.49L938.58 105.38L944.46 101.27L950.33 97.16L956.19 93.05L962.06 88.93L967.91 84.8L973.77 80.66L979.61 76.52L985.45 72.37L991.28 68.2L997.09 64.02L1002.9 59.83L1008.7 55.63L1014.49 51.41L1020.26 47.17L1026.02 42.91L1031.76 38.64L1037.49 34.35L1043.2 30.03L1048.9 25.69L1054.57 21.33L1051.83 17.79L1046.19 22.17L1040.53 26.53L1034.85 30.86L1029.16 35.17L1023.45 39.47L1017.72 43.75L1011.98 48.01L1006.23 52.25L1000.46 56.48L994.68 60.69L988.89 64.89L983.09 69.08L977.28 73.26L971.46 77.42L965.63 81.58L959.8 85.74L953.96 89.88L948.12 94.02L942.27 98.16L936.41 102.29L930.56 106.43L924.7 110.56L918.85 114.69L912.99 118.82L907.13 122.95L901.28 127.09L895.43 131.24L889.58 135.38L883.74 139.54L877.9 143.7L872.07 147.88L866.25 152.06L860.43 156.25L854.62 160.46L848.82 164.68L843.04 168.91L837.26 173.16L831.5 177.43L825.75 181.72L820.01 186.02L814.29 190.34L808.58 194.69L802.89 199.05L797.22 203.44L791.56 207.85L785.93 212.29L780.31 216.75L774.71 221.24L769.14 225.76L763.59 230.31L758.06 234.9L752.56 239.51L747.09 244.16L741.64 248.85L736.22 253.58L730.84 258.34L725.5 263.16L720.22 268.02L714.98 272.95L709.81 277.92L704.71 282.97L699.69 288.07L694.74 293.25L689.89 298.51L685.13 303.84L680.47 309.25L675.92 314.75L671.49 320.35L667.17 326.03L662.99 331.8L658.92 337.67L654.99 343.62L651.19 349.66L647.52 355.79L643.99 362.01L640.6 368.3L637.35 374.69L634.24 381.15L631.28 387.69L628.47 394.31L625.82 401.01L623.31 407.79L620.97 414.64L618.78 421.56L616.76 428.55L614.91 435.62L613.23 442.75L611.71 449.95L610.38 457.22Z" stroke="none" fill-opacity="0.5"/>
<path d="M610.38 457.22L611.85 449.98L613.49 442.82L615.29 435.72L617.24 428.69L619.35 421.74L621.62 414.86L624.04 408.05L626.6 401.32L629.31 394.67L632.17 388.09L635.17 381.59L638.31 375.17L641.59 368.83L645.01 362.58L648.56 356.41L652.24 350.32L656.06 344.32L660 338.4L664.07 332.58L668.26 326.84L672.57 321.19L677 315.64L681.55 310.17L686.2 304.78L690.96 299.48L695.81 294.25L700.74 289.1L705.76 284.02L710.85 278.99L716.02 274.04L721.24 269.13L726.53 264.28L731.86 259.48L737.23 254.73L742.65 250.02L748.09 245.34L753.56 240.7L759.06 236.09L764.58 231.52L770.13 226.97L775.7 222.46L781.29 217.97L786.9 213.52L792.53 209.09L798.19 204.69L803.86 200.31L809.55 195.95L815.25 191.62L820.98 187.31L826.72 183.01L832.47 178.74L838.23 174.49L844.01 170.25L849.8 166.03L855.61 161.82L861.42 157.63L867.24 153.45L873.07 149.28L878.91 145.12L884.75 140.97L890.6 136.82L896.45 132.69L902.31 128.56L908.17 124.43L914.04 120.31L919.9 116.19L925.77 112.07L931.64 107.96L937.5 103.84L943.36 99.72L949.22 95.59L955.08 91.47L960.93 87.33L966.77 83.19L972.61 79.04L978.44 74.89L984.27 70.72L990.08 66.55L995.89 62.36L1001.68 58.15L1007.46 53.94L1013.23 49.71L1018.99 45.46L1024.73 41.19L1030.46 36.91L1036.17 32.6L1041.87 28.28L1047.54 23.93L1053.2 19.56" fill="none" stroke-width="2.9" stroke-opacity="0.85"/>
<path d="M619.3 426.3h6.6M627.62 391.5h6.6M635.94 362h6.6M644.26 344.8h6.6M652.58 328.1h6.6M660.9 321h6.6M669.22 316.7h6.6M677.54 312.1h6.6M685.86 306.5h6.6M694.18 297.8h6.6M702.51 286.6h6.6M710.83 276.4h6.6M719.15 268.5h6.6M727.47 260.4h6.6M735.79 252.9h6.6M744.11 245.5h6.6M752.43 238h6.6M760.75 229.7h6.6M769.07 223.2h6.6M777.39 217.6h6.6M785.71 211.1h6.6M794.03 204.6h6.6M802.35 197.2h6.6M810.67 190.7h6.6M818.99 184.3h6.6M827.31 177.8h6.6M835.63 171.3h6.6M843.95 165.7h6.6M852.27 161h6.6M860.59 156.4h6.6M868.92 150.8h6.6M877.24 144.3h6.6M885.56 142.4h6.6M893.88 136.8h6.6M902.2 134h6.6M910.52 125.7h6.6M918.84 122.9h6.6M927.16 122.9h6.6M935.48 121h6.6" fill="none" stroke-width="1.3"/>
<path d="M947.1 100.4V107.8M943.5 100.4h7.2M943.5 107.8h7.2M955.42 106V113.4M951.82 106h7.2M951.82 113.4h7.2M963.74 96.9V104.9M960.14 96.9h7.2M960.14 104.9h7.2M972.06 94.4V103.8M968.46 94.4h7.2M968.46 103.8h7.2" fill="none" stroke-width="1.4"/>
<path d="M618.6 422.3l8.0 8.0m0 -8.0l-8.0 8.0M626.92 387.5l8.0 8.0m0 -8.0l-8.0 8.0M635.24 358l8.0 8.0m0 -8.0l-8.0 8.0M643.56 340.8l8.0 8.0m0 -8.0l-8.0 8.0M651.88 324.1l8.0 8.0m0 -8.0l-8.0 8.0M660.2 317l8.0 8.0m0 -8.0l-8.0 8.0M668.52 312.7l8.0 8.0m0 -8.0l-8.0 8.0M676.84 308.1l8.0 8.0m0 -8.0l-8.0 8.0M685.16 302.5l8.0 8.0m0 -8.0l-8.0 8.0M693.48 293.8l8.0 8.0m0 -8.0l-8.0 8.0M701.81 282.6l8.0 8.0m0 -8.0l-8.0 8.0M710.13 272.4l8.0 8.0m0 -8.0l-8.0 8.0M718.45 264.5l8.0 8.0m0 -8.0l-8.0 8.0M726.77 256.4l8.0 8.0m0 -8.0l-8.0 8.0M735.09 248.9l8.0 8.0m0 -8.0l-8.0 8.0M743.41 241.5l8.0 8.0m0 -8.0l-8.0 8.0M751.73 234l8.0 8.0m0 -8.0l-8.0 8.0M760.05 225.7l8.0 8.0m0 -8.0l-8.0 8.0M768.37 219.2l8.0 8.0m0 -8.0l-8.0 8.0M776.69 213.6l8.0 8.0m0 -8.0l-8.0 8.0M785.01 207.1l8.0 8.0m0 -8.0l-8.0 8.0M793.33 200.6l8.0 8.0m0 -8.0l-8.0 8.0M801.65 193.2l8.0 8.0m0 -8.0l-8.0 8.0M809.97 186.7l8.0 8.0m0 -8.0l-8.0 8.0M818.29 180.3l8.0 8.0m0 -8.0l-8.0 8.0M826.61 173.8l8.0 8.0m0 -8.0l-8.0 8.0M834.93 167.3l8.0 8.0m0 -8.0l-8.0 8.0M843.25 161.7l8.0 8.0m0 -8.0l-8.0 8.0M851.57 157l8.0 8.0m0 -8.0l-8.0 8.0M859.89 152.4l8.0 8.0m0 -8.0l-8.0 8.0M868.22 146.8l8.0 8.0m0 -8.0l-8.0 8.0M876.54 140.3l8.0 8.0m0 -8.0l-8.0 8.0M884.86 138.4l8.0 8.0m0 -8.0l-8.0 8.0M893.18 132.8l8.0 8.0m0 -8.0l-8.0 8.0M901.5 130l8.0 8.0m0 -8.0l-8.0 8.0M909.82 121.7l8.0 8.0m0 -8.0l-8.0 8.0M918.14 118.9l8.0 8.0m0 -8.0l-8.0 8.0M926.46 118.9l8.0 8.0m0 -8.0l-8.0 8.0M934.78 117l8.0 8.0m0 -8.0l-8.0 8.0M943.1 100.1l8.0 8.0m0 -8.0l-8.0 8.0M951.42 105.7l8.0 8.0m0 -8.0l-8.0 8.0M959.74 96.9l8.0 8.0m0 -8.0l-8.0 8.0M968.06 95.1l8.0 8.0m0 -8.0l-8.0 8.0" fill="none" stroke-width="1.85"/>
</g>
<g stroke="#1c7a48" fill="#1c7a48">
<path d="M701.07 456.55L701.55 452.52L702.07 448.51L702.64 444.52L703.25 440.55L703.89 436.59L704.57 432.64L705.27 428.71L706 424.79L706.75 420.88L707.52 416.97L708.31 413.07L709.1 409.18L709.91 405.29L710.71 401.4L711.52 397.52L712.33 393.63L713.12 389.74L713.91 385.85L714.68 381.95L715.44 378.04L716.17 374.13L716.88 370.2L717.56 366.27L718.21 362.32L718.83 358.36L719.42 354.39L720 350.41L720.56 346.43L721.11 342.44L721.67 338.45L722.22 334.45L722.79 330.46L723.38 326.48L723.99 322.5L724.62 318.52L725.3 314.56L726.01 310.61L726.77 306.67L727.58 302.75L728.45 298.85L729.38 294.96L730.39 291.1L731.47 287.27L732.63 283.45L733.88 279.67L735.23 275.92L736.68 272.2L738.23 268.51L739.89 264.86L741.68 261.27L743.58 257.74L745.62 254.31L747.8 250.99L750.11 247.8L752.58 244.77L755.2 241.92L757.98 239.26L760.93 236.81L764.05 234.61L767.35 232.66L770.84 230.98L774.5 229.6L778.33 228.51L782.31 227.71L786.4 227.3L790.58 227.3L794.85 227.3L799.16 227.3L803.51 227.84L1072.9 227.3" fill="none" stroke-width="1.2" stroke-opacity="0.55"/>
<path d="M701.07 456.55L701.55 452.52L702.07 448.51L702.64 444.52L703.25 440.55L703.89 436.59L704.57 432.64L705.27 428.71L706 424.79L706.75 420.88L707.52 416.97L708.31 413.07L709.1 409.18L709.91 405.29L710.71 401.4L711.52 397.52L712.33 393.63L713.12 389.74L713.91 385.85L714.68 381.95L715.44 378.04L716.17 374.13L716.88 370.2L717.56 366.27L718.21 362.32L718.83 358.36L719.42 354.39L720 350.41L720.56 346.43L721.11 342.44L721.67 338.45L722.22 334.45L722.79 330.46L723.38 326.48L723.99 322.5L724.62 318.52L725.3 314.56L726.01 310.61L726.77 306.67L727.58 302.75L728.45 298.85L729.38 294.96L730.39 291.1L731.47 287.27L732.63 283.45L733.88 279.67L735.23 275.92L736.68 272.2L738.23 268.51L739.89 264.86L741.68 261.27L743.58 257.74L745.62 254.31L747.8 250.99L750.11 247.8L752.58 244.77L755.2 241.92L757.98 239.26L760.93 236.81L764.05 234.61L767.35 232.66L770.84 230.98L774.5 229.6L778.33 228.51L782.31 227.71L786.4 227.3L790.58 227.3L794.85 227.3L799.16 227.3L803.51 227.84L1072.9 227.3" fill="none" stroke-width="2.5" stroke-opacity="0.82" stroke-dasharray="9.8 3.6"/>
<g stroke="none"><circle cx="715.9" cy="380.4" r="4.85"/><circle cx="731.3" cy="290.3" r="4.85"/><circle cx="746.8" cy="250.5" r="4.85"/><circle cx="762.4" cy="235.3" r="4.85"/><circle cx="777.9" cy="229.3" r="4.85"/><circle cx="793.1" cy="227.5" r="4.85"/><circle cx="808.64" cy="227.3" r="4.85"/><circle cx="824.1" cy="227.3" r="4.85"/><circle cx="839.56" cy="227.3" r="4.85"/><circle cx="855.02" cy="227.3" r="4.85"/><circle cx="870.48" cy="227.3" r="4.85"/><circle cx="885.94" cy="227.3" r="4.85"/><circle cx="901.4" cy="227.3" r="4.85"/><circle cx="916.86" cy="227.3" r="4.85"/><circle cx="932.32" cy="227.3" r="4.85"/></g>
<path d="M731.58 457.12L732.3 450.88L733.11 444.67L734 438.46L734.98 432.26L736.05 426.07L737.2 419.88L738.44 413.72L739.76 407.56L741.17 401.42L742.66 395.31L744.24 389.21L745.91 383.14L747.65 377.09L749.49 371.06L751.4 365.07L753.41 359.11L755.49 353.17L757.67 347.28L759.92 341.42L762.27 335.6L764.69 329.81L767.2 324.07L769.8 318.38L772.48 312.73L775.25 307.13L778.1 301.57L781.04 296.07L784.06 290.63L787.17 285.23L790.36 279.9L793.64 274.62L797 269.41L800.45 264.26L803.99 259.17L807.61 254.15L811.31 249.2L815.1 244.32L818.98 239.51L822.94 234.77L826.99 230.1L831.11 225.49L835.3 220.95L839.57 216.47L843.92 212.05L848.33 207.69L852.8 203.38L857.34 199.13L861.95 194.93L866.6 190.78L871.32 186.68L876.09 182.63L880.91 178.62L885.77 174.66L890.69 170.74L895.64 166.85L900.64 163.01L905.67 159.2L910.74 155.42L915.84 151.68L920.98 147.97L926.14 144.29L931.32 140.63L936.53 137L941.75 133.39L947 129.81L952.26 126.24L957.53 122.69L962.81 119.16L968.12 115.67L973.44 112.2L978.76 108.75L984.09 105.31L989.41 101.88L994.74 98.45L1000.05 95.03L1005.36 91.62L1010.65 88.2L1015.93 84.78L1021.19 81.36L1026.43 77.94L1031.65 74.5L1036.85 71.06L1042.02 67.6L1047.15 64.13L1052.26 60.65L1057.33 57.14L1062.37 53.61L1067.36 50.07L1072.3 46.5L1068.37 41.22L1063.56 44.92L1058.71 48.59L1053.81 52.24L1048.87 55.86L1043.9 59.48L1038.88 63.08L1033.83 66.66L1028.75 70.23L1023.64 73.79L1018.5 77.35L1013.33 80.89L1008.15 84.44L1002.95 87.97L997.73 91.51L992.49 95.05L987.24 98.58L981.99 102.12L976.73 105.66L971.46 109.21L966.19 112.76L960.92 116.32L955.63 119.86L950.35 123.42L945.08 126.99L939.83 130.59L934.59 134.2L929.37 137.85L924.17 141.51L918.99 145.21L913.84 148.93L908.72 152.69L903.63 156.48L898.57 160.3L893.55 164.16L888.57 168.06L883.64 172.01L878.74 175.99L873.9 180.02L869.1 184.1L864.35 188.22L859.66 192.4L855.03 196.62L850.45 200.9L845.94 205.24L841.5 209.64L837.12 214.09L832.81 218.61L828.58 223.19L824.42 227.84L820.33 232.55L816.33 237.34L812.41 242.19L808.58 247.12L804.84 252.12L801.18 257.18L797.61 262.32L794.12 267.51L790.72 272.77L787.41 278.1L784.18 283.48L781.04 288.91L777.98 294.41L775.01 299.95L772.13 305.55L769.33 311.2L766.61 316.89L763.98 322.63L761.44 328.42L758.98 334.24L756.6 340.11L754.31 346.01L752.11 351.95L749.98 357.92L747.94 363.93L745.99 369.96L744.11 376.03L742.32 382.12L740.61 388.23L738.99 394.37L737.45 400.53L735.99 406.71L734.61 412.9L733.31 419.11L732.09 425.34L730.95 431.57L729.9 437.82L728.92 444.07L728.03 450.33L727.21 456.58Z" stroke="none" fill-opacity="0.3"/>
<path d="M729.39 456.85L730.16 450.61L731.02 444.37L731.95 438.14L732.97 431.92L734.07 425.7L735.26 419.5L736.52 413.31L737.87 407.14L739.31 400.98L740.83 394.84L742.43 388.72L744.11 382.63L745.88 376.56L747.74 370.51L749.67 364.5L751.69 358.51L753.8 352.56L755.99 346.64L758.26 340.76L760.62 334.92L763.07 329.11L765.59 323.35L768.21 317.63L770.91 311.96L773.69 306.34L776.56 300.76L779.51 295.24L782.55 289.77L785.67 284.35L788.88 279L792.18 273.7L795.56 268.46L799.03 263.29L802.58 258.18L806.22 253.13L809.95 248.16L813.76 243.26L817.66 238.42L821.64 233.66L825.7 228.97L829.84 224.34L834.06 219.78L838.35 215.28L842.71 210.84L847.14 206.46L851.63 202.14L856.19 197.88L860.8 193.66L865.48 189.5L870.21 185.39L874.99 181.32L879.82 177.31L884.71 173.33L889.63 169.4L894.6 165.51L899.61 161.65L904.65 157.84L909.73 154.06L914.84 150.31L919.98 146.59L925.15 142.9L930.34 139.24L935.56 135.6L940.79 131.99L946.04 128.4L951.3 124.83L956.58 121.28L961.86 117.74L967.16 114.22L972.45 110.7L977.75 107.2L983.04 103.71L988.33 100.23L993.61 96.75L998.89 93.27L1004.15 89.8L1009.4 86.32L1014.63 82.84L1019.84 79.36L1025.03 75.87L1030.2 72.37L1035.34 68.86L1040.45 65.34L1045.52 61.81L1050.57 58.26L1055.57 54.69L1060.54 51.1L1065.46 47.49L1070.33 43.86" fill="none" stroke-width="2.9" stroke-opacity="0.85"/>
<path d="M735.79 403.4h6.6M744.11 372.4h6.6M752.43 351.7h6.6M760.75 327.7h6.6M769.07 308.8h6.6M777.39 291.5h6.6M785.71 280h6.6M794.03 265.1h6.6M802.35 253h6.6M810.67 241.9h6.6M818.99 231.6h6.6M827.31 222.3h6.6M835.63 214h6.6M843.95 206.5h6.6M852.27 199.6h6.6M860.59 192.7h6.6M868.92 185.2h6.6M877.24 175.9h6.6M885.56 173.1h6.6M893.88 164.7h6.6M902.2 161h6.6M910.52 152.7h6.6M918.84 148h6.6M927.16 144.3h6.6M935.48 140.6h6.6" fill="none" stroke-width="1.3"/>
<path d="M730.77 436.5V445.9M727.17 436.5h7.2M727.17 445.9h7.2M947.1 121V126.6M943.5 121h7.2M943.5 126.6h7.2M955.42 125.5V131.5M951.82 125.5h7.2M951.82 131.5h7.2M963.74 113.4V119.4M960.14 113.4h7.2M960.14 119.4h7.2M972.06 108V119.2M968.46 108h7.2M968.46 119.2h7.2" fill="none" stroke-width="1.4"/>
<path d="M726.77 437.2l8.0 8.0m0 -8.0l-8.0 8.0M735.09 399.4l8.0 8.0m0 -8.0l-8.0 8.0M743.41 368.4l8.0 8.0m0 -8.0l-8.0 8.0M751.73 347.7l8.0 8.0m0 -8.0l-8.0 8.0M760.05 323.7l8.0 8.0m0 -8.0l-8.0 8.0M768.37 304.8l8.0 8.0m0 -8.0l-8.0 8.0M776.69 287.5l8.0 8.0m0 -8.0l-8.0 8.0M785.01 276l8.0 8.0m0 -8.0l-8.0 8.0M793.33 261.1l8.0 8.0m0 -8.0l-8.0 8.0M801.65 249l8.0 8.0m0 -8.0l-8.0 8.0M809.97 237.9l8.0 8.0m0 -8.0l-8.0 8.0M818.29 227.6l8.0 8.0m0 -8.0l-8.0 8.0M826.61 218.3l8.0 8.0m0 -8.0l-8.0 8.0M834.93 210l8.0 8.0m0 -8.0l-8.0 8.0M843.25 202.5l8.0 8.0m0 -8.0l-8.0 8.0M851.57 195.6l8.0 8.0m0 -8.0l-8.0 8.0M859.89 188.7l8.0 8.0m0 -8.0l-8.0 8.0M868.22 181.2l8.0 8.0m0 -8.0l-8.0 8.0M876.54 171.9l8.0 8.0m0 -8.0l-8.0 8.0M884.86 169.1l8.0 8.0m0 -8.0l-8.0 8.0M893.18 160.7l8.0 8.0m0 -8.0l-8.0 8.0M901.5 157l8.0 8.0m0 -8.0l-8.0 8.0M909.82 148.7l8.0 8.0m0 -8.0l-8.0 8.0M918.14 144l8.0 8.0m0 -8.0l-8.0 8.0M926.46 140.3l8.0 8.0m0 -8.0l-8.0 8.0M934.78 136.6l8.0 8.0m0 -8.0l-8.0 8.0M943.1 119.8l8.0 8.0m0 -8.0l-8.0 8.0M951.42 124.5l8.0 8.0m0 -8.0l-8.0 8.0M959.74 112.4l8.0 8.0m0 -8.0l-8.0 8.0M968.06 109.6l8.0 8.0m0 -8.0l-8.0 8.0" fill="none" stroke-width="1.85"/>
</g>
<g stroke="#c04f06" fill="#c04f06">
<path d="M732.16 456.59L732.79 452.3L733.44 448.04L734.11 443.8L734.8 439.58L735.51 435.38L736.24 431.21L736.99 427.05L737.75 422.91L738.52 418.78L739.3 414.67L740.09 410.56L740.89 406.47L741.7 402.39L742.52 398.31L743.33 394.24L744.15 390.17L744.98 386.1L745.8 382.03L746.62 377.97L747.44 373.89L748.25 369.82L749.06 365.73L749.86 361.64L750.66 357.54L751.44 353.43L752.21 349.3L752.97 345.16L753.71 341.01L754.44 336.83L755.15 332.64L755.85 328.43L756.53 324.19L757.2 319.94L757.88 315.69L758.58 311.44L759.3 307.19L760.07 302.95L760.88 298.74L761.76 294.55L762.71 290.4L763.74 286.28L764.87 282.21L766.11 278.19L767.46 274.24L768.94 270.35L770.56 266.53L772.33 262.79L774.26 259.14L776.36 255.58L778.64 252.12L781.12 248.78L783.78 245.58L786.63 242.55L789.67 239.73L792.88 237.15L796.28 234.84L799.85 232.82L803.6 231.13L807.53 229.81L811.62 228.86L815.84 228.25L820.17 227.9L824.56 227.76L828.96 227.75L833.35 227.81L837.68 227.86L841.91 227.85L846 227.7L849.92 227.34L1072.9 227.3" fill="none" stroke-width="1.2" stroke-opacity="0.55"/>
<path d="M732.16 456.59L732.79 452.3L733.44 448.04L734.11 443.8L734.8 439.58L735.51 435.38L736.24 431.21L736.99 427.05L737.75 422.91L738.52 418.78L739.3 414.67L740.09 410.56L740.89 406.47L741.7 402.39L742.52 398.31L743.33 394.24L744.15 390.17L744.98 386.1L745.8 382.03L746.62 377.97L747.44 373.89L748.25 369.82L749.06 365.73L749.86 361.64L750.66 357.54L751.44 353.43L752.21 349.3L752.97 345.16L753.71 341.01L754.44 336.83L755.15 332.64L755.85 328.43L756.53 324.19L757.2 319.94L757.88 315.69L758.58 311.44L759.3 307.19L760.07 302.95L760.88 298.74L761.76 294.55L762.71 290.4L763.74 286.28L764.87 282.21L766.11 278.19L767.46 274.24L768.94 270.35L770.56 266.53L772.33 262.79L774.26 259.14L776.36 255.58L778.64 252.12L781.12 248.78L783.78 245.58L786.63 242.55L789.67 239.73L792.88 237.15L796.28 234.84L799.85 232.82L803.6 231.13L807.53 229.81L811.62 228.86L815.84 228.25L820.17 227.9L824.56 227.76L828.96 227.75L833.35 227.81L837.68 227.86L841.91 227.85L846 227.7L849.92 227.34L1072.9 227.3" fill="none" stroke-width="2.5" stroke-opacity="0.82" stroke-dasharray="9.8 3.6"/>
<g stroke="none"><circle cx="746.8" cy="378.5" r="4.85"/><circle cx="762" cy="295" r="4.85"/><circle cx="777.6" cy="253" r="4.85"/><circle cx="793" cy="236.3" r="4.85"/><circle cx="808.6" cy="230.4" r="4.85"/><circle cx="823.8" cy="228.3" r="4.85"/><circle cx="839.3" cy="227.9" r="4.85"/><circle cx="854.5" cy="227.5" r="4.85"/><circle cx="870" cy="227.4" r="4.85"/><circle cx="885.4" cy="228.8" r="4.85"/><circle cx="901" cy="227.4" r="4.85"/><circle cx="916.5" cy="227.4" r="4.85"/><circle cx="931.9" cy="227.5" r="4.85"/></g>
<path d="M764.41 456.98L765.14 451.38L765.92 445.76L766.75 440.12L767.64 434.46L768.59 428.79L769.59 423.1L770.65 417.4L771.77 411.69L772.95 405.98L774.18 400.27L775.48 394.55L776.83 388.85L778.25 383.14L779.73 377.45L781.27 371.77L782.88 366.11L784.56 360.46L786.3 354.84L788.11 349.23L790 343.66L791.95 338.12L793.98 332.61L796.08 327.13L798.26 321.69L800.52 316.3L802.85 310.95L805.26 305.64L807.76 300.39L810.34 295.19L813 290.05L815.75 284.96L818.58 279.94L821.51 274.98L824.52 270.09L827.63 265.27L830.83 260.51L834.12 255.83L837.49 251.2L840.94 246.65L844.48 242.15L848.1 237.72L851.8 233.34L855.57 229.03L859.41 224.77L863.32 220.57L867.31 216.42L871.36 212.33L875.47 208.28L879.64 204.29L883.87 200.35L888.17 196.46L892.51 192.62L896.91 188.82L901.36 185.07L905.85 181.36L910.4 177.69L914.98 174.06L919.63 170.49L924.32 166.98L929.06 163.52L933.84 160.1L938.65 156.71L943.49 153.37L948.36 150.06L953.27 146.79L958.19 143.55L963.14 140.34L968.11 137.16L973.09 134.01L978.1 130.89L983.11 127.79L988.14 124.72L993.17 121.67L998.21 118.64L1003.26 115.63L1008.31 112.64L1013.35 109.67L1018.4 106.71L1023.44 103.77L1028.47 100.83L1033.5 97.91L1038.51 95L1043.51 92.1L1048.5 89.2L1053.47 86.31L1058.41 83.42L1063.34 80.53L1068.24 77.65L1073.11 74.77L1067.62 65.97L1062.9 69.06L1058.16 72.16L1053.39 75.26L1048.59 78.36L1043.76 81.46L1038.92 84.57L1034.05 87.69L1029.17 90.82L1024.27 93.95L1019.36 97.1L1014.44 100.25L1009.51 103.42L1004.57 106.6L999.63 109.8L994.69 113.01L989.75 116.24L984.82 119.49L979.89 122.75L974.96 126.04L970.05 129.34L965.15 132.67L960.26 136.03L955.39 139.41L950.54 142.81L945.71 146.24L940.9 149.7L936.12 153.18L931.37 156.7L926.64 160.25L921.94 163.82L917.27 167.43L912.63 171.05L908.01 174.7L903.44 178.39L898.91 182.13L894.42 185.91L889.99 189.73L885.61 193.61L881.28 197.53L877.01 201.5L872.79 205.52L868.64 209.6L864.55 213.73L860.52 217.91L856.56 222.15L852.67 226.45L848.85 230.81L845.11 235.23L841.44 239.71L837.85 244.25L834.34 248.86L830.92 253.54L827.58 258.28L824.33 263.09L821.17 267.97L818.09 272.91L815.11 277.93L812.22 283.01L809.42 288.15L806.7 293.34L804.07 298.59L801.52 303.89L799.05 309.24L796.66 314.63L794.34 320.07L792.1 325.55L789.93 331.06L787.83 336.61L785.8 342.19L783.84 347.79L781.95 353.43L780.11 359.08L778.34 364.75L776.63 370.44L774.97 376.14L773.37 381.85L771.82 387.57L770.33 393.29L768.88 399.02L767.48 404.74L766.12 410.46L764.8 416.17L763.52 421.88L762.28 427.56L761.07 433.24L759.89 438.89L758.74 444.52L757.61 450.12L756.51 455.69Z" stroke="none" fill-opacity="0.25"/>
<path d="M760.46 456.34L761.38 450.75L762.33 445.14L763.32 439.51L764.36 433.85L765.43 428.18L766.56 422.49L767.73 416.79L768.94 411.08L770.21 405.36L771.53 399.64L772.9 393.92L774.33 388.21L775.81 382.5L777.35 376.8L778.95 371.1L780.61 365.43L782.34 359.77L784.12 354.13L785.98 348.51L787.9 342.92L789.89 337.36L791.96 331.83L794.09 326.34L796.3 320.88L798.59 315.47L800.95 310.09L803.39 304.77L805.92 299.49L808.52 294.27L811.21 289.1L813.99 283.98L816.85 278.93L819.8 273.95L822.84 269.03L825.98 264.18L829.2 259.4L832.52 254.68L835.92 250.03L839.4 245.45L842.96 240.93L846.61 236.47L850.32 232.08L854.12 227.74L857.99 223.46L861.92 219.24L865.93 215.07L870 210.96L874.13 206.9L878.32 202.9L882.58 198.94L886.89 195.03L891.25 191.18L895.67 187.36L900.13 183.6L904.65 179.88L909.2 176.2L913.81 172.56L918.45 168.96L923.13 165.4L927.85 161.88L932.6 158.4L937.38 154.95L942.2 151.53L947.04 148.15L951.9 144.8L956.79 141.48L961.7 138.18L966.63 134.92L971.57 131.68L976.53 128.46L981.5 125.27L986.48 122.1L991.46 118.95L996.45 115.83L1001.45 112.72L1006.44 109.62L1011.43 106.54L1016.42 103.48L1021.4 100.43L1026.37 97.39L1031.33 94.36L1036.28 91.35L1041.22 88.33L1046.13 85.33L1051.03 82.33L1055.9 79.34L1060.75 76.35L1065.57 73.36L1070.37 70.37" fill="none" stroke-width="2.9" stroke-opacity="0.85"/>
<path d="M769.07 391.9h6.6M777.39 363.2h6.6M785.71 346.3h6.6M794.03 317.6h6.6M802.35 300.6h6.6M810.67 280.9h6.6M818.99 268.8h6.6M827.31 254.9h6.6M835.63 242.8h6.6M843.95 230.7h6.6M852.27 224.2h6.6M860.59 215.8h6.6M868.92 208.4h6.6M877.24 200h6.6M885.56 194.5h6.6M893.88 186.1h6.6M902.2 182.4h6.6M910.52 172.2h6.6M918.84 169.4h6.6M927.16 162.9h6.6M935.48 158.2h6.6" fill="none" stroke-width="1.3"/>
<path d="M764.05 427.3V442.1M760.45 427.3h7.2M760.45 442.1h7.2M947.1 139.6V147M943.5 139.6h7.2M943.5 147h7.2M955.42 141.5V148.9M951.82 141.5h7.2M951.82 148.9h7.2M963.74 130.3V135.9M960.14 130.3h7.2M960.14 135.9h7.2M972.06 124.8V132.2M968.46 124.8h7.2M968.46 132.2h7.2" fill="none" stroke-width="1.4"/>
<path d="M760.05 430.7l8.0 8.0m0 -8.0l-8.0 8.0M768.37 387.9l8.0 8.0m0 -8.0l-8.0 8.0M776.69 359.2l8.0 8.0m0 -8.0l-8.0 8.0M785.01 342.3l8.0 8.0m0 -8.0l-8.0 8.0M793.33 313.6l8.0 8.0m0 -8.0l-8.0 8.0M801.65 296.6l8.0 8.0m0 -8.0l-8.0 8.0M809.97 276.9l8.0 8.0m0 -8.0l-8.0 8.0M818.29 264.8l8.0 8.0m0 -8.0l-8.0 8.0M826.61 250.9l8.0 8.0m0 -8.0l-8.0 8.0M834.93 238.8l8.0 8.0m0 -8.0l-8.0 8.0M843.25 226.7l8.0 8.0m0 -8.0l-8.0 8.0M851.57 220.2l8.0 8.0m0 -8.0l-8.0 8.0M859.89 211.8l8.0 8.0m0 -8.0l-8.0 8.0M868.22 204.4l8.0 8.0m0 -8.0l-8.0 8.0M876.54 196l8.0 8.0m0 -8.0l-8.0 8.0M884.86 190.5l8.0 8.0m0 -8.0l-8.0 8.0M893.18 182.1l8.0 8.0m0 -8.0l-8.0 8.0M901.5 178.4l8.0 8.0m0 -8.0l-8.0 8.0M909.82 168.2l8.0 8.0m0 -8.0l-8.0 8.0M918.14 165.4l8.0 8.0m0 -8.0l-8.0 8.0M926.46 158.9l8.0 8.0m0 -8.0l-8.0 8.0M934.78 154.2l8.0 8.0m0 -8.0l-8.0 8.0M943.1 139.3l8.0 8.0m0 -8.0l-8.0 8.0M951.42 141.2l8.0 8.0m0 -8.0l-8.0 8.0M959.74 129.1l8.0 8.0m0 -8.0l-8.0 8.0M968.06 124.5l8.0 8.0m0 -8.0l-8.0 8.0" fill="none" stroke-width="1.85"/>
</g>
</g>
<rect x="81.1" y="19.9" width="495.1" height="437.8" fill="none" stroke="#000" stroke-width="2"/>
<text x="89.94" y="481.4" text-anchor="middle" font-size="21.5">10</text>
<text x="178.35" y="481.4" text-anchor="middle" font-size="21.5">11</text>
<text x="266.76" y="481.4" text-anchor="middle" font-size="21.5">12</text>
<text x="355.17" y="481.4" text-anchor="middle" font-size="21.5">13</text>
<text x="443.58" y="481.4" text-anchor="middle" font-size="21.5">14</text>
<text x="531.99" y="481.4" text-anchor="middle" font-size="21.5">15</text>
<rect x="576.2" y="19.9" width="494.7" height="437.8" fill="none" stroke="#000" stroke-width="2"/>
<text x="585.03" y="481.4" text-anchor="middle" font-size="21.5">10</text>
<text x="673.37" y="481.4" text-anchor="middle" font-size="21.5">11</text>
<text x="761.71" y="481.4" text-anchor="middle" font-size="21.5">12</text>
<text x="850.05" y="481.4" text-anchor="middle" font-size="21.5">13</text>
<text x="938.39" y="481.4" text-anchor="middle" font-size="21.5">14</text>
<text x="1026.73" y="481.4" text-anchor="middle" font-size="21.5">15</text>
<text x="51.3" y="466.2" text-anchor="end" font-size="21.5">10</text>
<text x="52.1" y="457.5" font-size="15" textLength="17.2" lengthAdjust="spacingAndGlyphs">−3</text>
<text x="51.3" y="389.38" text-anchor="end" font-size="21.5">10</text>
<text x="52.1" y="380.68" font-size="15" textLength="17.2" lengthAdjust="spacingAndGlyphs">−2</text>
<text x="51.3" y="312.56" text-anchor="end" font-size="21.5">10</text>
<text x="52.1" y="303.86" font-size="15" textLength="17.2" lengthAdjust="spacingAndGlyphs">−1</text>
<text x="63.1" y="235.74" text-anchor="end" font-size="21.5">10</text>
<text x="63.5" y="227.04" font-size="15">0</text>
<text x="63.1" y="158.92" text-anchor="end" font-size="21.5">10</text>
<text x="63.5" y="150.22" font-size="15">1</text>
<text x="63.1" y="82.1" text-anchor="end" font-size="21.5">10</text>
<text x="63.5" y="73.4" font-size="15">2</text>
<text x="327.5" y="16.3" text-anchor="middle" font-size="22">z=0.1</text>
<text x="822.5" y="16.3" text-anchor="middle" font-size="22">z=1.0</text>
<text x="480.2" y="510.4" font-size="27" textLength="31.6" lengthAdjust="spacingAndGlyphs">log</text>
<text x="523.4" y="510.4" font-size="27" font-style="italic" textLength="25" lengthAdjust="spacingAndGlyphs">M</text>
<text x="548.8" y="514" font-size="19" textLength="30.8" lengthAdjust="spacingAndGlyphs">halo</text>
<text x="586.6" y="510.4" font-size="27">[</text>
<text x="594" y="510.4" font-size="27" font-style="italic" textLength="25" lengthAdjust="spacingAndGlyphs">M</text>
<text x="617.3" y="514.6" font-size="19.5">⊙</text>
<text x="630.5" y="510.4" font-size="27">]</text>
<text transform="translate(26,278.6) rotate(-90) scale(0.78,1)" font-size="32" font-family="'Noto Serif CJK SC', serif">〈</text>
<text transform="translate(22,253.2) rotate(-90)" font-size="29.5" font-style="italic" textLength="24.8" lengthAdjust="spacingAndGlyphs">N</text>
<text transform="translate(26,226) rotate(-90) scale(0.78,1)" font-size="32" font-family="'Noto Serif CJK SC', serif">〉</text>
<rect x="89.6" y="28.3" width="119" height="74.2" rx="3" fill="#fff" fill-opacity="0.8" stroke="#ccc" stroke-opacity="0.8" stroke-width="1"/>
<text x="120" y="47.3" font-size="17.5" textLength="57.8" lengthAdjust="spacingAndGlyphs">Location</text>
<circle cx="112.5" cy="64" r="4.9" fill="#000"/>
<path d="M108.4 83.3l8.2 8.2M116.6 83.3l-8.2 8.2" stroke="#000" stroke-width="2" fill="none"/>
<text x="142.3" y="70" font-size="17.5" textLength="56" lengthAdjust="spacingAndGlyphs">Centrals</text>
<text x="142.3" y="92.6" font-size="17.5" textLength="60" lengthAdjust="spacingAndGlyphs">Satellites</text>
<rect x="585.3" y="28.8" width="162.2" height="103.1" rx="3" fill="#fff" fill-opacity="0.8" stroke="#ccc" stroke-opacity="0.8" stroke-width="1"/>
<text x="608" y="47.1" font-size="17.5" textLength="114.6" lengthAdjust="spacingAndGlyphs">SMBH Mass Cut</text>
<rect x="591.1" y="60.1" width="33.1" height="11.3" fill="#20649a" fill-opacity="0.3"/>
<text x="638.6" y="71.4" font-size="17.3" font-style="italic" textLength="15.6" lengthAdjust="spacingAndGlyphs">M</text>
<text x="653.4" y="74.1" font-size="12.5" font-style="italic" textLength="18.2" lengthAdjust="spacingAndGlyphs">BH</text>
<text x="678" y="73.3" font-size="22">&gt;</text>
<text x="694.6" y="71.4" font-size="17.3">10</text>
<text x="711" y="64.9" font-size="12.5">6</text>
<text x="716.2" y="71.4" font-size="17.3" font-style="italic" textLength="16.2" lengthAdjust="spacingAndGlyphs">M</text>
<text x="730.6" y="77" font-size="11.6">⊙</text>
<rect x="591.1" y="85.4" width="33.1" height="11.3" fill="#1c7a48" fill-opacity="0.3"/>
<text x="638.6" y="96.7" font-size="17.3" font-style="italic" textLength="15.6" lengthAdjust="spacingAndGlyphs">M</text>
<text x="653.4" y="99.4" font-size="12.5" font-style="italic" textLength="18.2" lengthAdjust="spacingAndGlyphs">BH</text>
<text x="678" y="98.6" font-size="22">&gt;</text>
<text x="694.6" y="96.7" font-size="17.3">10</text>
<text x="711" y="90.2" font-size="12.5">7</text>
<text x="716.2" y="96.7" font-size="17.3" font-style="italic" textLength="16.2" lengthAdjust="spacingAndGlyphs">M</text>
<text x="730.6" y="102.3" font-size="11.6">⊙</text>
<rect x="591.1" y="110.7" width="33.1" height="11.3" fill="#c04f06" fill-opacity="0.3"/>
<text x="638.6" y="122" font-size="17.3" font-style="italic" textLength="15.6" lengthAdjust="spacingAndGlyphs">M</text>
<text x="653.4" y="124.7" font-size="12.5" font-style="italic" textLength="18.2" lengthAdjust="spacingAndGlyphs">BH</text>
<text x="678" y="123.9" font-size="22">&gt;</text>
<text x="694.6" y="122" font-size="17.3">10</text>
<text x="711" y="115.5" font-size="12.5">8</text>
<text x="716.2" y="122" font-size="17.3" font-style="italic" textLength="16.2" lengthAdjust="spacingAndGlyphs">M</text>
<text x="730.6" y="127.6" font-size="11.6">⊙</text>
</svg>
</body></html>
